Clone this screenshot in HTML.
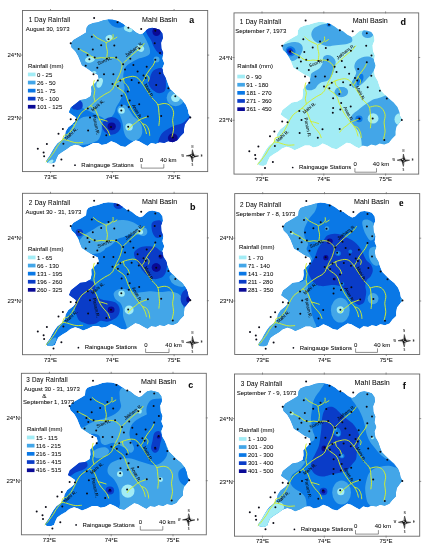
<!DOCTYPE html><html><head><meta charset="utf-8"><title>Mahi Basin Rainfall</title><style>html,body{margin:0;padding:0;background:#fff;overflow:hidden}svg{display:block}text{font-family:"Liberation Sans",sans-serif;fill:#0a0a0a;stroke:#0a0a0a;stroke-width:0.05px}</style></head><body>
<svg width="427" height="550" viewBox="0 0 427 550">
<defs><clipPath id="bc"><path d="M48.1,33.3 L50.9,29.5 L55.6,26.7 L60.3,23.9 L63.5,22.0 L64.0,17.3 L65.9,14.5 L70.6,12.6 L75.3,11.7 L80.9,9.8 L85.6,8.9 L90.3,9.3 L95.9,10.8 L100.6,13.6 L104.3,16.4 L109.0,18.3 L113.7,22.0 L117.5,23.9 L120.3,22.9 L123.1,20.1 L125.9,17.9 L129.7,17.3 L133.4,17.9 L137.2,19.2 L140.0,22.9 L140.5,27.6 L138.6,32.3 L139.0,37.9 L140.9,42.6 L140.0,48.2 L141.8,52.9 L140.0,57.6 L140.9,63.2 L143.7,67.9 L145.6,73.5 L147.5,78.2 L151.2,82.0 L154.9,85.6 L159.6,89.5 L163.4,94.2 L165.3,98.9 L166.2,103.6 L168.1,106.4 L165.3,110.1 L162.4,113.9 L161.5,118.6 L161.5,122.3 L157.8,126.0 L154.9,129.8 L150.3,131.7 L145.6,130.7 L141.8,132.6 L137.2,131.7 L133.4,133.5 L128.7,132.6 L125.0,135.4 L121.2,133.5 L116.5,130.7 L112.8,129.8 L107.8,133.0 L102.7,136.4 L98.1,135.4 L93.4,132.6 L88.7,130.7 L84.0,133.5 L79.3,134.5 L75.6,132.6 L70.9,132.6 L65.3,135.4 L60.6,137.3 L56.6,135.1 L52.7,133.9 L48.0,135.7 L44.3,138.6 L39.6,141.4 L35.8,144.2 L34.0,147.9 L32.6,151.7 L29.3,153.0 L25.5,152.6 L23.3,151.1 L24.6,148.9 L27.4,145.1 L29.3,141.4 L32.1,136.7 L34.9,132.9 L38.8,129.9 L42.3,125.7 L43.1,121.1 L45.8,116.8 L50.1,113.4 L53.8,109.9 L53.3,106.4 L50.3,104.5 L46.5,101.7 L48.4,97.0 L53.1,93.3 L57.8,89.5 L63.4,88.6 L68.1,85.8 L69.0,81.1 L68.7,76.3 L73.4,71.7 L76.2,67.9 L75.3,64.2 L69.7,61.4 L64.0,57.6 L59.4,54.8 L57.5,50.1 L55.6,45.4 L52.8,40.7 L49.0,37.0Z"/></clipPath>
<g id="riv" fill="none" stroke="#d2ee2c" stroke-width="0.95" stroke-linecap="round" stroke-linejoin="round">
<path d="M23.6,151.3 C24.0,150.9 25.3,149.8 26.2,148.7 C27.1,147.6 28.2,146.0 29.1,144.8 C30.1,143.5 30.8,142.6 31.8,141.2 C32.7,139.7 33.8,137.7 34.7,136.2 C35.7,134.8 36.4,133.8 37.3,132.6 C38.3,131.4 39.6,130.3 40.3,129.0 C41.0,127.8 40.5,126.0 41.3,125.1 C42.1,124.2 43.8,124.8 45.2,123.8 C46.6,122.8 48.2,120.9 49.5,119.2 C50.7,117.4 51.7,115.4 52.8,113.3 C53.8,111.2 54.9,108.7 56.0,106.7 C57.1,104.8 58.1,103.2 59.3,101.8 C60.6,100.5 62.1,99.6 63.6,98.5 C65.0,97.4 66.7,96.5 68.2,95.3 C69.6,94.0 70.9,92.4 72.4,91.0 C74.0,89.6 75.7,88.3 77.3,87.1 C79.0,85.9 80.6,84.8 82.3,83.8 C83.9,82.8 85.8,82.1 87.2,81.2 C88.5,80.2 89.6,79.1 90.5,77.9 C91.3,76.7 91.1,75.2 92.1,74.0 C93.1,72.8 94.9,71.7 96.4,70.7 C97.8,69.7 99.5,68.7 101.0,68.1 C102.4,67.4 103.7,67.1 105.2,66.7 C106.7,66.4 108.7,65.8 110.1,65.8 C111.6,65.8 113.0,66.2 114.1,66.7 C115.2,67.3 115.8,68.1 116.7,69.0 C117.6,70.0 118.3,70.9 119.3,72.3 C120.3,73.7 121.5,75.6 122.6,77.2 C123.7,78.9 124.8,80.5 125.9,82.1 C127.0,83.8 127.9,85.6 129.1,87.1 C130.3,88.5 132.0,89.6 133.1,91.0 C134.2,92.4 135.2,93.5 135.7,95.3 C136.3,97.1 136.1,99.6 136.4,101.8 C136.6,104.0 137.0,106.2 137.0,108.4 C137.0,110.6 136.5,113.8 136.4,114.9"/>
<path d="M135.7,94.3 C136.8,94.1 140.2,92.8 142.3,93.0 C144.3,93.1 146.4,93.8 147.8,95.3 C149.3,96.7 150.7,99.4 151.1,101.8 C151.5,104.3 150.1,107.3 150.1,110.0 C150.1,112.8 151.2,115.5 151.1,118.2 C151.0,120.9 149.7,125.0 149.5,126.4"/>
<path d="M56.0,37.9 C56.7,38.3 58.8,39.7 60.3,40.5 C61.8,41.3 63.4,41.9 64.9,42.8 C66.4,43.7 67.6,45.3 69.1,46.1 C70.7,46.9 72.4,47.6 74.1,47.7 C75.7,47.9 77.3,47.1 79.0,47.1 C80.6,47.1 82.3,47.7 83.9,47.7 C85.5,47.7 87.3,47.1 88.8,47.1 C90.3,47.1 91.7,47.2 93.1,47.7 C94.4,48.3 95.9,49.3 97.0,50.3 C98.1,51.4 99.4,52.8 99.6,54.3 C99.9,55.8 99.1,57.6 98.7,59.2 C98.2,60.8 97.7,62.5 97.0,64.1 C96.3,65.8 95.2,67.4 94.4,69.0 C93.6,70.7 92.5,73.1 92.1,74.0"/>
<path d="M70.8,24.1 C71.4,24.7 73.4,26.5 74.7,27.4 C76.1,28.3 77.6,28.9 79.0,29.7 C80.4,30.5 82.4,30.9 83.2,32.0 C84.1,33.1 83.6,34.7 83.9,36.2 C84.2,37.8 84.8,39.4 84.9,41.2 C84.9,43.0 84.3,46.1 84.2,47.1"/>
<path d="M90.5,24.1 C90.5,24.7 90.9,26.4 90.5,27.4 C90.0,28.4 88.9,29.3 87.8,30.0 C86.7,30.8 84.6,31.7 83.9,32.0"/>
<path d="M94.4,26.7 C93.8,27.1 91.7,28.4 91.1,28.7"/>
<path d="M121.6,33.0 C121.1,33.7 119.6,36.0 118.3,37.2 C117.1,38.5 115.5,39.3 114.1,40.5 C112.6,41.7 111.0,43.1 109.5,44.4 C108.0,45.8 106.6,47.0 105.2,48.4 C103.8,49.7 101.7,51.9 101.0,52.6"/>
<path d="M132.4,51.0 C132.1,51.7 131.3,53.6 130.5,54.9 C129.6,56.3 128.3,57.7 127.2,59.2 C126.1,60.7 124.8,62.5 123.9,64.1 C123.0,65.8 122.4,67.7 121.6,69.0 C120.8,70.4 119.7,71.8 119.3,72.3"/>
<path d="M123.9,64.1 C124.3,64.7 126.2,66.3 126.5,67.4 C126.9,68.5 126.0,70.1 125.9,70.7"/>
<path d="M92.1,74.0 C92.8,74.6 94.9,76.7 96.4,77.9 C97.8,79.1 99.7,79.9 101.0,81.2 C102.2,82.4 102.9,83.9 103.6,85.4 C104.3,87.0 104.6,88.7 105.2,90.3 C105.9,92.0 106.7,93.6 107.5,95.3 C108.3,96.9 109.1,98.5 110.1,100.2 C111.1,101.8 112.3,103.6 113.4,105.1 C114.5,106.6 115.6,108.0 116.7,109.4 C117.8,110.7 119.0,111.8 120.0,113.3 C121.0,114.8 121.9,116.6 122.6,118.2 C123.2,119.9 123.7,122.3 123.9,123.1"/>
<path d="M116.7,109.4 C117.5,109.0 120.1,107.9 121.6,107.4 C123.1,106.8 124.9,106.3 125.5,106.1"/>
<path d="M116.7,109.4 C116.0,109.9 114.1,111.5 112.8,112.6 C111.4,113.7 109.6,114.8 108.5,115.9 C107.3,117.0 106.3,118.7 105.9,119.2"/>
<path d="M120.0,113.3 C120.6,113.6 122.8,113.8 123.9,114.9 C125.0,116.0 126.0,118.2 126.5,119.9 C127.1,121.5 127.1,124.0 127.2,124.8"/>
<path d="M68.2,95.3 C68.9,95.8 71.3,97.2 72.4,98.5 C73.5,99.9 74.0,101.8 74.7,103.5 C75.4,105.1 76.0,106.8 76.7,108.4 C77.4,109.9 78.1,111.3 79.0,112.6 C79.9,114.0 81.2,115.3 82.3,116.6 C83.4,117.9 84.7,119.1 85.5,120.5 C86.4,121.9 86.9,124.1 87.2,124.8"/>
<path d="M76.7,108.4 C77.3,108.5 79.3,109.0 80.6,109.4 C81.9,109.7 83.9,110.5 84.6,110.7"/>
<path d="M40.3,129.0 C41.0,129.1 43.0,129.3 44.6,129.7 C46.1,130.1 47.8,130.9 49.5,131.3 C51.1,131.8 52.6,132.2 54.4,132.3 C56.1,132.4 59.0,132.0 60.0,132.0"/>
<path d="M72.4,91.0 C72.3,90.1 71.4,87.3 71.4,85.4 C71.4,83.6 72.5,81.7 72.4,79.9 C72.3,78.1 70.9,76.2 70.8,74.6 C70.7,73.0 71.6,70.8 71.8,70.0"/>
<path d="M101.0,68.1 C101.1,68.8 101.2,71.1 101.9,72.3 C102.6,73.6 104.4,74.3 105.2,75.6 C106.0,76.8 106.6,79.1 106.9,79.9"/>
</g>
<g id="dots" fill="#0a0a14">
<circle cx="71.6" cy="7.5" r="1.0"/>
<circle cx="95.0" cy="11.8" r="1.0"/>
<circle cx="105.9" cy="17.3" r="1.0"/>
<circle cx="69.3" cy="26.3" r="1.0"/>
<circle cx="86.0" cy="28.7" r="1.0"/>
<circle cx="48.2" cy="32.8" r="1.0"/>
<circle cx="56.2" cy="38.4" r="1.0"/>
<circle cx="78.7" cy="34.7" r="1.0"/>
<circle cx="91.8" cy="35.1" r="1.0"/>
<circle cx="70.3" cy="39.0" r="1.0"/>
<circle cx="65.0" cy="44.6" r="1.0"/>
<circle cx="66.9" cy="48.7" r="1.0"/>
<circle cx="72.2" cy="46.9" r="1.0"/>
<circle cx="84.3" cy="48.2" r="1.0"/>
<circle cx="93.7" cy="46.9" r="1.0"/>
<circle cx="107.8" cy="48.2" r="1.0"/>
<circle cx="63.2" cy="55.3" r="1.0"/>
<circle cx="74.8" cy="57.2" r="1.0"/>
<circle cx="100.6" cy="53.8" r="1.0"/>
<circle cx="110.9" cy="54.4" r="1.0"/>
<circle cx="71.0" cy="63.7" r="1.0"/>
<circle cx="81.5" cy="63.7" r="1.0"/>
<circle cx="90.9" cy="63.7" r="1.0"/>
<circle cx="102.5" cy="59.1" r="1.0"/>
<circle cx="115.1" cy="60.9" r="1.0"/>
<circle cx="75.3" cy="69.9" r="1.0"/>
<circle cx="97.8" cy="69.9" r="1.0"/>
<circle cx="109.1" cy="69.4" r="1.0"/>
<circle cx="90.0" cy="73.5" r="1.0"/>
<circle cx="95.4" cy="75.4" r="1.0"/>
<circle cx="105.3" cy="81.0" r="1.0"/>
<circle cx="99.1" cy="85.3" r="1.0"/>
<circle cx="107.2" cy="90.0" r="1.0"/>
<circle cx="99.1" cy="95.0" r="1.0"/>
<circle cx="106.3" cy="96.5" r="1.0"/>
<circle cx="118.7" cy="18.4" r="1.0"/>
<circle cx="132.8" cy="20.3" r="1.0"/>
<circle cx="132.2" cy="32.8" r="1.0"/>
<circle cx="116.9" cy="37.9" r="1.0"/>
<circle cx="137.5" cy="42.6" r="1.0"/>
<circle cx="132.8" cy="49.3" r="1.0"/>
<circle cx="124.2" cy="56.2" r="1.0"/>
<circle cx="121.0" cy="65.0" r="1.0"/>
<circle cx="123.2" cy="67.5" r="1.0"/>
<circle cx="137.3" cy="62.8" r="1.0"/>
<circle cx="116.3" cy="72.2" r="1.0"/>
<circle cx="133.7" cy="74.4" r="1.0"/>
<circle cx="145.9" cy="77.8" r="1.0"/>
<circle cx="152.8" cy="85.7" r="1.0"/>
<circle cx="116.7" cy="93.7" r="1.0"/>
<circle cx="65.3" cy="98.0" r="1.0"/>
<circle cx="67.5" cy="107.0" r="1.0"/>
<circle cx="53.5" cy="109.3" r="1.0"/>
<circle cx="48.2" cy="108.7" r="1.0"/>
<circle cx="40.4" cy="118.6" r="1.0"/>
<circle cx="36.0" cy="123.3" r="1.0"/>
<circle cx="65.6" cy="120.1" r="1.0"/>
<circle cx="88.5" cy="116.4" r="1.0"/>
<circle cx="83.8" cy="124.8" r="1.0"/>
<circle cx="40.9" cy="133.2" r="1.0"/>
<circle cx="24.4" cy="133.6" r="1.0"/>
<circle cx="21.1" cy="142.0" r="1.0"/>
<circle cx="21.6" cy="145.8" r="1.0"/>
<circle cx="38.9" cy="149.0" r="1.0"/>
<circle cx="31.0" cy="155.2" r="1.0"/>
<circle cx="98.8" cy="99.9" r="1.0"/>
<circle cx="125.4" cy="105.9" r="1.0"/>
<circle cx="138.7" cy="105.5" r="1.0"/>
<circle cx="167.8" cy="107.0" r="1.0"/>
<circle cx="105.7" cy="116.2" r="1.0"/>
<circle cx="150.3" cy="127.1" r="1.0"/>
<circle cx="15.3" cy="138.3" r="1.0"/>
</g>
<g id="compass"><g stroke="#222" stroke-width="0.3" stroke-linejoin="miter"><path d="M0,-6.2L1.3,-1.3L6.2,0L1.3,1.3L0,6.2L-1.3,1.3L-6.2,0L-1.3,-1.3Z" fill="#fff"/><path d="M0,-6.2L1.3,-1.3L0,0ZM6.2,0L1.3,1.3L0,0ZM0,6.2L-1.3,1.3L0,0ZM-6.2,0L-1.3,-1.3L0,0Z" fill="#111"/><path d="M0,-2.6L2.6,0L0,2.6L-2.6,0Z" fill="#111" stroke="none"/><path d="M-0.2,-1.7L-1.7,-0.2L-0.2,-0.2ZM0.2,1.7L1.7,0.2L0.2,0.2Z" fill="#fff" stroke="none"/></g><text x="0" y="-8.3" font-size="2.6" text-anchor="middle" fill="#555" stroke="none">N</text><text x="0" y="10.6" font-size="2.6" text-anchor="middle" fill="#555" stroke="none">S</text><text x="9.2" y="0.9" font-size="2.6" text-anchor="middle" fill="#555" stroke="none">E</text><text x="-9.6" y="0.9" font-size="2.6" text-anchor="middle" fill="#555" stroke="none">W</text></g>
</defs>
<rect width="427" height="550" fill="#fff"/>
<g transform="translate(22.5,10.5)">
<rect x="0" y="0" width="185.2" height="161.1" fill="#fff" stroke="#686868" stroke-width="0.9"/>
<path d="M28.0,-1.5V0.5M28.0,160.6V162.6" stroke="#686868" stroke-width="0.7"/>
<path d="M89.8,-1.5V0.5M89.8,160.6V162.6" stroke="#686868" stroke-width="0.7"/>
<path d="M151.6,-1.5V0.5M151.6,160.6V162.6" stroke="#686868" stroke-width="0.7"/>
<path d="M-1.5,44.6H0.5M184.7,44.6H186.7" stroke="#686868" stroke-width="0.7"/>
<path d="M-1.5,107.4H0.5M184.7,107.4H186.7" stroke="#686868" stroke-width="0.7"/>
<g transform="translate(0.0,0.0)">
<g clip-path="url(#bc)">
<path d="M48.1,33.3 L50.9,29.5 L55.6,26.7 L60.3,23.9 L63.5,22.0 L64.0,17.3 L65.9,14.5 L70.6,12.6 L75.3,11.7 L80.9,9.8 L85.6,8.9 L90.3,9.3 L95.9,10.8 L100.6,13.6 L104.3,16.4 L109.0,18.3 L113.7,22.0 L117.5,23.9 L120.3,22.9 L123.1,20.1 L125.9,17.9 L129.7,17.3 L133.4,17.9 L137.2,19.2 L140.0,22.9 L140.5,27.6 L138.6,32.3 L139.0,37.9 L140.9,42.6 L140.0,48.2 L141.8,52.9 L140.0,57.6 L140.9,63.2 L143.7,67.9 L145.6,73.5 L147.5,78.2 L151.2,82.0 L154.9,85.6 L159.6,89.5 L163.4,94.2 L165.3,98.9 L166.2,103.6 L168.1,106.4 L165.3,110.1 L162.4,113.9 L161.5,118.6 L161.5,122.3 L157.8,126.0 L154.9,129.8 L150.3,131.7 L145.6,130.7 L141.8,132.6 L137.2,131.7 L133.4,133.5 L128.7,132.6 L125.0,135.4 L121.2,133.5 L116.5,130.7 L112.8,129.8 L107.8,133.0 L102.7,136.4 L98.1,135.4 L93.4,132.6 L88.7,130.7 L84.0,133.5 L79.3,134.5 L75.6,132.6 L70.9,132.6 L65.3,135.4 L60.6,137.3 L56.6,135.1 L52.7,133.9 L48.0,135.7 L44.3,138.6 L39.6,141.4 L35.8,144.2 L34.0,147.9 L32.6,151.7 L29.3,153.0 L25.5,152.6 L23.3,151.1 L24.6,148.9 L27.4,145.1 L29.3,141.4 L32.1,136.7 L34.9,132.9 L38.8,129.9 L42.3,125.7 L43.1,121.1 L45.8,116.8 L50.1,113.4 L53.8,109.9 L53.3,106.4 L50.3,104.5 L46.5,101.7 L48.4,97.0 L53.1,93.3 L57.8,89.5 L63.4,88.6 L68.1,85.8 L69.0,81.1 L68.7,76.3 L73.4,71.7 L76.2,67.9 L75.3,64.2 L69.7,61.4 L64.0,57.6 L59.4,54.8 L57.5,50.1 L55.6,45.4 L52.8,40.7 L49.0,37.0Z" fill="#0a78e6"/>
<path d="M37.5,16.2 C43.1,3.7 64.7,-0.3 75.0,-2.5 C85.3,-4.7 93.1,0.3 99.3,3.1 C105.6,5.9 109.3,11.4 112.4,14.4 C115.6,17.3 116.6,18.4 118.4,20.9 C120.3,23.4 122.2,26.5 123.7,29.4 C125.1,32.2 126.5,35.4 127.1,37.8 C127.6,40.1 127.9,41.9 127.1,43.4 C126.2,44.9 123.8,45.7 121.8,46.6 C119.8,47.4 117.3,47.6 115.3,48.5 C113.2,49.3 111.3,50.4 109.6,51.5 C107.9,52.5 106.2,53.5 104.9,54.6 C103.7,55.8 102.8,56.7 102.1,58.4 C101.5,60.1 101.0,62.6 100.8,64.9 C100.7,67.3 101.0,70.3 101.2,72.4 C101.4,74.6 102.3,76.0 102.1,78.1 C102.0,80.1 101.1,82.4 100.3,84.6 C99.4,86.8 98.2,89.1 97.1,91.2 C96.0,93.2 94.6,94.9 93.7,96.8 C92.8,98.7 92.8,100.7 91.8,102.4 C90.9,104.1 89.6,106.1 88.1,107.1 C86.5,108.1 84.7,107.9 82.5,108.4 C80.3,108.9 77.5,109.4 75.0,109.9 C72.5,110.5 69.7,111.0 67.5,111.8 C65.3,112.6 63.7,113.0 61.9,114.6 C60.0,116.2 58.4,121.9 56.2,121.2 C54.0,120.4 51.2,118.0 48.7,109.9 C46.2,101.8 43.1,88.1 41.2,72.4 C39.4,56.8 31.9,28.7 37.5,16.2Z" fill="#43a6e8"/>
<path d="M87.1,5.0 C88.6,4.5 91.5,5.0 93.7,5.9 C95.9,6.9 98.9,9.1 100.3,10.6 C101.7,12.2 102.6,14.2 102.1,15.3 C101.7,16.4 99.2,17.0 97.5,17.2 C95.7,17.3 93.4,16.9 91.8,16.2 C90.3,15.6 89.2,14.7 88.1,13.4 C87.0,12.2 85.4,10.1 85.3,8.7 C85.1,7.3 85.7,5.5 87.1,5.0Z" fill="#0a78e6"/>
<path d="M41.9,97.6 C43.6,95.6 48.3,94.2 51.2,94.2 C54.2,94.2 57.1,96.5 59.7,97.6 C62.2,98.7 64.2,99.5 66.6,100.6 C68.9,101.7 71.3,103.1 73.7,104.3 C76.1,105.6 80.1,106.5 81.2,107.9 C82.3,109.3 81.8,112.7 80.3,113.0 C78.7,113.3 74.5,110.6 71.8,109.8 C69.2,108.9 66.7,107.9 64.3,107.9 C62.0,107.9 59.7,108.8 57.8,109.8 C55.9,110.7 55.1,113.2 53.1,113.5 C51.1,113.8 47.6,112.9 45.6,111.7 C43.6,110.4 41.5,108.4 40.9,106.0 C40.3,103.7 40.1,99.6 41.9,97.6Z" fill="#0a78e6"/>
<path d="M17.5,159.4 C16.3,157.6 19.4,151.6 21.2,148.2 C23.1,144.8 26.2,141.6 28.7,138.8 C31.2,136.0 33.7,133.7 36.2,131.3 C38.7,129.0 41.7,127.0 43.7,124.8 C45.8,122.6 46.9,120.2 48.4,118.2 C50.0,116.2 51.5,114.3 53.1,112.6 C54.7,110.9 55.9,109.0 57.8,107.9 C59.7,106.8 62.0,106.2 64.3,106.0 C66.7,105.9 69.6,106.3 71.8,107.0 C74.0,107.6 76.2,108.2 77.5,109.8 C78.7,111.3 79.2,114.0 79.3,116.3 C79.5,118.7 79.0,121.6 78.4,123.8 C77.8,126.0 77.0,128.0 75.6,129.5 C74.2,130.9 72.0,131.5 70.0,132.3 C67.9,133.0 65.9,133.7 63.4,134.1 C60.9,134.6 57.6,134.4 55.0,135.1 C52.3,135.7 50.0,136.3 47.5,137.9 C45.0,139.4 42.2,142.1 40.0,144.4 C37.8,146.8 36.2,149.4 34.4,151.9 C32.5,154.4 31.6,158.2 28.7,159.4 C25.9,160.7 18.7,161.3 17.5,159.4Z" fill="#43a6e8"/>
<path d="M95.9,96.3 C97.2,95.2 100.6,93.8 102.5,94.5 C104.3,95.1 105.7,98.2 107.1,100.1 C108.6,102.0 109.5,104.1 110.9,105.7 C112.3,107.3 114.2,107.9 115.6,109.5 C116.9,111.0 118.3,112.9 119.0,115.1 C119.6,117.3 120.1,120.4 119.7,122.6 C119.3,124.8 118.1,126.9 116.5,128.2 C114.9,129.5 112.0,130.6 110.0,130.4 C107.9,130.3 105.7,128.7 104.3,127.3 C102.9,125.8 102.2,124.0 101.5,121.6 C100.8,119.3 100.8,115.9 100.2,113.2 C99.6,110.5 98.7,107.7 97.8,105.7 C96.9,103.7 95.3,102.6 95.0,101.0 C94.7,99.5 94.7,97.4 95.9,96.3Z" fill="#43a6e8"/>
<path d="M123.7,19.0 C124.4,17.6 126.5,15.9 128.4,15.3 C130.3,14.7 132.6,14.5 135.0,15.3 C137.3,16.1 141.2,16.7 142.5,20.0 C143.7,23.3 142.9,30.9 142.5,35.0 C142.0,39.0 140.9,43.2 139.7,44.3 C138.4,45.4 136.4,42.9 135.0,41.5 C133.6,40.1 132.3,37.9 131.2,35.9 C130.1,33.9 129.5,31.4 128.4,29.4 C127.3,27.3 125.4,25.4 124.7,23.7 C123.9,22.0 123.1,20.5 123.7,19.0Z" fill="#0a3cc8"/>
<path d="M132.2,59.3 C133.6,58.5 136.1,57.1 137.8,57.5 C139.5,57.8 141.5,58.7 142.5,61.2 C143.4,63.7 143.4,69.3 143.4,72.4 C143.4,75.6 143.6,78.2 142.5,79.9 C141.4,81.7 138.7,82.7 136.8,82.7 C135.0,82.7 132.8,81.3 131.2,79.9 C129.7,78.5 128.1,76.3 127.5,74.3 C126.9,72.3 127.2,69.8 127.5,67.8 C127.8,65.7 128.6,63.5 129.4,62.1 C130.1,60.7 130.8,60.1 132.2,59.3Z" fill="#0a3cc8"/>
<path d="M125.9,69.5 C126.6,68.3 128.3,67.0 130.6,66.7 C132.9,66.4 137.9,66.5 140.0,67.6 C142.0,68.7 142.6,71.4 142.8,73.2 C142.9,75.1 142.2,77.6 140.9,78.9 C139.7,80.2 137.2,81.1 135.3,81.1 C133.4,81.1 131.1,80.0 129.7,78.9 C128.2,77.7 127.1,75.7 126.5,74.2 C125.9,72.6 125.2,70.7 125.9,69.5Z" fill="#0a3cc8"/>
<path d="M171.8,101.4 C169.9,98.2 168.1,105.2 166.2,107.0 C164.3,108.8 163.1,110.8 160.6,112.2 C158.1,113.6 154.2,114.1 151.2,115.4 C148.2,116.7 145.0,118.4 142.8,120.1 C140.5,121.8 138.9,123.5 137.7,125.7 C136.6,127.9 135.5,130.7 135.8,133.2 C136.2,135.7 136.2,138.8 140.0,140.7 C143.8,142.6 152.5,146.9 158.7,144.4 C165.0,141.9 175.3,132.9 177.4,125.7 C179.6,118.5 173.7,104.5 171.8,101.4Z" fill="#0a3cc8"/>
<ellipse cx="89.0" cy="115.4" rx="9.4" ry="8.8" transform="rotate(0 89.0 115.4)" fill="#0a3cc8"/>
<ellipse cx="89.2" cy="115.8" rx="4.1" ry="3.9" transform="rotate(0 89.2 115.8)" fill="#0a0a96"/>
<ellipse cx="150.3" cy="127.6" rx="4.9" ry="4.7" transform="rotate(0 150.3 127.6)" fill="#0a0a96"/>
<ellipse cx="134.0" cy="20.9" rx="4.1" ry="4.7" transform="rotate(0 134.0 20.9)" fill="#0a0a96"/>
<path d="M49.4,88.2 C50.3,86.7 53.3,87.6 55.0,88.2 C56.7,88.9 58.9,90.4 59.7,92.0 C60.4,93.5 60.4,96.4 59.7,97.6 C58.9,98.9 56.7,99.5 55.0,99.5 C53.3,99.5 50.3,99.5 49.4,97.6 C48.4,95.7 48.4,89.8 49.4,88.2Z" fill="#0a3cc8"/>
<ellipse cx="105.9" cy="18.1" rx="4.5" ry="3.2" transform="rotate(20 105.9 18.1)" fill="#a2ecf5"/>
<ellipse cx="86.6" cy="27.5" rx="3.6" ry="3.0" transform="rotate(-20 86.6 27.5)" fill="#a2ecf5"/>
<ellipse cx="67.5" cy="49.0" rx="5.1" ry="3.2" transform="rotate(-15 67.5 49.0)" fill="#a2ecf5"/>
<ellipse cx="77.2" cy="72.4" rx="2.8" ry="5.1" transform="rotate(20 77.2 72.4)" fill="#a2ecf5"/>
<ellipse cx="71.6" cy="62.1" rx="2.2" ry="1.5" transform="rotate(0 71.6 62.1)" fill="#a2ecf5"/>
<ellipse cx="117.7" cy="37.8" rx="4.1" ry="3.2" transform="rotate(30 117.7 37.8)" fill="#a2ecf5"/>
<ellipse cx="153.1" cy="87.3" rx="9.0" ry="8.4" transform="rotate(0 153.1 87.3)" fill="#43a6e8"/>
<ellipse cx="153.1" cy="87.3" rx="4.5" ry="4.1" transform="rotate(0 153.1 87.3)" fill="#a2ecf5"/>
<ellipse cx="99.1" cy="100.1" rx="3.2" ry="3.2" transform="rotate(0 99.1 100.1)" fill="#a2ecf5"/>
<ellipse cx="106.6" cy="116.4" rx="3.7" ry="3.7" transform="rotate(0 106.6 116.4)" fill="#a2ecf5"/>
<ellipse cx="134.0" cy="49.0" rx="3.0" ry="3.0" transform="rotate(0 134.0 49.0)" fill="#43a6e8"/>
<ellipse cx="27.8" cy="151.9" rx="3.7" ry="1.7" transform="rotate(-40 27.8 151.9)" fill="#a2ecf5"/>
</g>
<use href="#riv"/>
<text x="76.3" y="96.1" font-size="4.5" text-anchor="middle" transform="rotate(-40 76.3 96.1)" fill="#1a2a55">Mahi R.</text>
<text x="49.7" y="124.2" font-size="4.5" text-anchor="middle" transform="rotate(-42 49.7 124.2)" fill="#1a2a55">Mahi R.</text>
<text x="72.2" y="114.9" font-size="4.5" text-anchor="middle" transform="rotate(78 72.2 114.9)" fill="#1a2a55">Panam R.</text>
<text x="82.8" y="51.6" font-size="4.5" text-anchor="middle" transform="rotate(-22 82.8 51.6)" fill="#1a2a55">Som R.</text>
<text x="112.6" y="39.9" font-size="4.5" text-anchor="middle" transform="rotate(-38 112.6 39.9)" fill="#1a2a55">Jakham R.</text>
<text x="125.1" y="81.0" font-size="4.5" text-anchor="middle" transform="rotate(62 125.1 81.0)" fill="#1a2a55">Mahi R.</text>
<text x="113.2" y="101.8" font-size="4.5" text-anchor="middle" transform="rotate(62 113.2 101.8)" fill="#1a2a55">Anas R.</text>
<use href="#dots"/>
</g>
<text x="6.2" y="11.1" font-size="6.3" letter-spacing="0.17">1 Day Rainfall</text>
<text x="3.3" y="20.1" font-size="6.0" >August 30, 1973</text>
<text x="119.6" y="11.0" font-size="7.1" >Mahi Basin</text>
<text x="166.8" y="12.9" font-size="8.8" font-weight="bold">a</text>
<text x="5.4" y="57.8" font-size="6">Rainfall (mm)</text>
<rect x="5.4" y="62.1" width="7.6" height="3.7" fill="#a2ecf5"/>
<text x="14.4" y="66.1" font-size="6">0 - 25</text>
<rect x="5.4" y="70.2" width="7.6" height="3.7" fill="#43a6e8"/>
<text x="14.4" y="74.2" font-size="6">26 - 50</text>
<rect x="5.4" y="78.3" width="7.6" height="3.7" fill="#0a78e6"/>
<text x="14.4" y="82.3" font-size="6">51 - 75</text>
<rect x="5.4" y="86.3" width="7.6" height="3.7" fill="#0a3cc8"/>
<text x="14.4" y="90.3" font-size="6">76 - 100</text>
<rect x="5.4" y="94.4" width="7.6" height="3.7" fill="#0a0a96"/>
<text x="14.4" y="98.4" font-size="6">101 - 125</text>
<circle cx="52.5" cy="154.7" r="0.85" fill="#0a0a14"/>
<text x="58.8" y="156.5" font-size="6">Raingauge Stations</text>
<path d="M118.8,153.6V157.6H141.3V153.6" fill="none" stroke="#444" stroke-width="0.6"/>
<text x="119.0" y="151.8" font-size="6" text-anchor="middle">0</text>
<text x="145.8" y="151.8" font-size="6" text-anchor="middle">40 km</text>
<use href="#compass" x="169.9" y="145.4"/>
<text x="28.0" y="168.3" font-size="6" text-anchor="middle">73°E</text>
<text x="89.8" y="168.3" font-size="6" text-anchor="middle">74°E</text>
<text x="151.6" y="168.3" font-size="6" text-anchor="middle">75°E</text>
<text x="-1.6" y="46.7" font-size="6" text-anchor="end">24°N</text>
<text x="-1.6" y="109.5" font-size="6" text-anchor="end">23°N</text>
</g>
<g transform="translate(22.5,193.3)">
<rect x="0" y="0" width="184.9" height="161.4" fill="#fff" stroke="#686868" stroke-width="0.9"/>
<path d="M28.0,-1.5V0.5M28.0,160.9V162.9" stroke="#686868" stroke-width="0.7"/>
<path d="M89.8,-1.5V0.5M89.8,160.9V162.9" stroke="#686868" stroke-width="0.7"/>
<path d="M151.6,-1.5V0.5M151.6,160.9V162.9" stroke="#686868" stroke-width="0.7"/>
<path d="M-1.5,44.6H0.5M184.4,44.6H186.4" stroke="#686868" stroke-width="0.7"/>
<path d="M-1.5,107.4H0.5M184.4,107.4H186.4" stroke="#686868" stroke-width="0.7"/>
<g transform="translate(0.0,0.0)">
<g clip-path="url(#bc)">
<path d="M48.1,33.3 L50.9,29.5 L55.6,26.7 L60.3,23.9 L63.5,22.0 L64.0,17.3 L65.9,14.5 L70.6,12.6 L75.3,11.7 L80.9,9.8 L85.6,8.9 L90.3,9.3 L95.9,10.8 L100.6,13.6 L104.3,16.4 L109.0,18.3 L113.7,22.0 L117.5,23.9 L120.3,22.9 L123.1,20.1 L125.9,17.9 L129.7,17.3 L133.4,17.9 L137.2,19.2 L140.0,22.9 L140.5,27.6 L138.6,32.3 L139.0,37.9 L140.9,42.6 L140.0,48.2 L141.8,52.9 L140.0,57.6 L140.9,63.2 L143.7,67.9 L145.6,73.5 L147.5,78.2 L151.2,82.0 L154.9,85.6 L159.6,89.5 L163.4,94.2 L165.3,98.9 L166.2,103.6 L168.1,106.4 L165.3,110.1 L162.4,113.9 L161.5,118.6 L161.5,122.3 L157.8,126.0 L154.9,129.8 L150.3,131.7 L145.6,130.7 L141.8,132.6 L137.2,131.7 L133.4,133.5 L128.7,132.6 L125.0,135.4 L121.2,133.5 L116.5,130.7 L112.8,129.8 L107.8,133.0 L102.7,136.4 L98.1,135.4 L93.4,132.6 L88.7,130.7 L84.0,133.5 L79.3,134.5 L75.6,132.6 L70.9,132.6 L65.3,135.4 L60.6,137.3 L56.6,135.1 L52.7,133.9 L48.0,135.7 L44.3,138.6 L39.6,141.4 L35.8,144.2 L34.0,147.9 L32.6,151.7 L29.3,153.0 L25.5,152.6 L23.3,151.1 L24.6,148.9 L27.4,145.1 L29.3,141.4 L32.1,136.7 L34.9,132.9 L38.8,129.9 L42.3,125.7 L43.1,121.1 L45.8,116.8 L50.1,113.4 L53.8,109.9 L53.3,106.4 L50.3,104.5 L46.5,101.7 L48.4,97.0 L53.1,93.3 L57.8,89.5 L63.4,88.6 L68.1,85.8 L69.0,81.1 L68.7,76.3 L73.4,71.7 L76.2,67.9 L75.3,64.2 L69.7,61.4 L64.0,57.6 L59.4,54.8 L57.5,50.1 L55.6,45.4 L52.8,40.7 L49.0,37.0Z" fill="#0a78e6"/>
<path d="M57.2,46.8 C57.8,45.4 59.8,43.4 61.9,41.7 C63.9,40.1 66.9,38.6 69.4,37.0 C71.8,35.5 74.3,33.6 76.8,32.4 C79.3,31.1 81.8,30.3 84.3,29.6 C86.8,28.8 89.3,28.1 91.8,27.7 C94.3,27.2 96.8,26.7 99.3,26.7 C101.8,26.7 104.6,27.1 106.8,27.7 C109.0,28.2 110.6,29.0 112.4,29.9 C114.3,30.9 116.2,32.4 118.1,33.3 C119.9,34.2 122.6,34.1 123.7,35.2 C124.8,36.3 125.1,38.6 124.6,39.9 C124.2,41.1 122.6,42.4 120.9,42.7 C119.2,42.9 116.7,41.4 114.3,41.2 C112.0,40.9 109.0,40.8 106.8,41.2 C104.6,41.6 103.1,42.9 101.2,43.6 C99.3,44.3 97.1,44.5 95.6,45.5 C94.0,46.4 93.2,48.0 91.8,49.2 C90.4,50.5 89.0,51.9 87.1,53.0 C85.3,54.1 82.8,55.2 80.6,55.8 C78.4,56.4 76.2,57.0 74.0,56.7 C71.8,56.4 69.5,54.7 67.5,53.9 C65.4,53.1 63.4,52.7 61.9,52.0 C60.3,51.3 58.9,50.7 58.1,49.8 C57.3,48.9 56.5,48.1 57.2,46.8Z" fill="#43a6e8"/>
<path d="M91.2,100.3 C91.5,98.7 93.3,97.3 95.0,96.5 C96.7,95.8 99.5,95.4 101.5,95.6 C103.6,95.8 105.1,96.9 107.1,97.5 C109.2,98.1 111.4,99.1 113.7,99.3 C116.0,99.6 118.7,99.0 121.2,98.8 C123.7,98.6 125.9,98.0 128.7,98.0 C131.5,98.0 135.3,98.8 138.1,98.8 C140.9,98.8 143.4,98.0 145.6,98.0 C147.7,98.0 149.3,98.3 151.2,98.8 C153.1,99.3 155.3,100.0 156.8,101.2 C158.3,102.4 159.5,103.9 160.2,105.9 C160.9,107.9 160.4,111.2 160.9,113.4 C161.5,115.6 162.2,117.6 163.4,119.0 C164.5,120.4 166.3,121.8 168.0,121.8 C169.8,121.8 171.8,120.4 173.7,119.0 C175.5,117.6 178.3,110.6 179.3,113.4 C180.2,116.2 187.1,130.3 179.3,135.9 C171.5,141.5 144.6,145.9 132.4,147.1 C120.3,148.4 110.9,145.6 106.2,143.4 C101.5,141.2 105.0,136.5 104.3,134.0 C103.7,131.5 103.1,130.3 102.5,128.4 C101.8,126.5 101.0,125.0 100.6,122.8 C100.2,120.6 100.7,117.5 100.2,115.3 C99.7,113.1 99.0,111.2 97.8,109.7 C96.6,108.1 94.2,107.5 93.1,105.9 C92.0,104.3 90.9,101.8 91.2,100.3Z" fill="#43a6e8"/>
<ellipse cx="152.1" cy="87.5" rx="3.4" ry="3.0" transform="rotate(0 152.1 87.5)" fill="#43a6e8"/>
<path d="M147.1,82.9 C147.9,81.5 151.4,79.7 153.7,80.1 C156.0,80.6 160.0,83.6 161.2,85.8 C162.4,87.9 162.4,92.2 161.2,93.3 C160.0,94.3 155.7,93.1 153.7,92.3 C151.7,91.5 150.1,90.1 149.0,88.6 C147.9,87.0 146.4,84.4 147.1,82.9Z" fill="#43a6e8"/>
<ellipse cx="28.7" cy="150.3" rx="7.5" ry="2.6" transform="rotate(-50 28.7 150.3)" fill="#43a6e8"/>
<path d="M53.8,49.7 C56.3,48.1 64.1,47.8 68.7,47.8 C73.4,47.8 79.5,48.5 81.9,49.7 C84.2,50.9 83.4,53.8 82.8,55.3 C82.2,56.9 80.1,58.2 78.1,59.1 C76.1,59.9 73.1,60.4 70.6,60.6 C68.1,60.7 65.3,59.9 63.1,60.0 C60.9,60.1 59.1,61.4 57.5,60.9 C55.9,60.5 54.4,59.1 53.8,57.2 C53.1,55.3 51.3,51.3 53.8,49.7Z" fill="#43a6e8"/>
<ellipse cx="96.1" cy="11.6" rx="5.1" ry="4.1" transform="rotate(0 96.1 11.6)" fill="#0a3cc8"/>
<ellipse cx="56.8" cy="39.3" rx="3.7" ry="3.7" transform="rotate(0 56.8 39.3)" fill="#0a3cc8"/>
<path d="M130.3,28.6 C131.8,27.6 136.0,26.2 137.8,27.3 C139.6,28.4 140.7,32.6 141.0,35.2 C141.3,37.7 140.8,41.1 139.7,42.7 C138.5,44.2 135.6,45.0 134.0,44.5 C132.5,44.1 131.1,41.7 130.3,39.9 C129.4,38.0 129.0,35.2 129.0,33.3 C129.0,31.4 128.8,29.6 130.3,28.6Z" fill="#0a3cc8"/>
<path d="M112.5,57.7 C113.6,56.4 115.9,54.7 118.1,53.9 C120.3,53.1 123.1,53.0 125.6,53.0 C128.1,53.0 131.1,53.1 133.1,53.9 C135.1,54.7 136.2,56.6 137.8,57.7 C139.3,58.7 141.4,58.3 142.5,60.5 C143.6,62.6 144.3,67.5 144.3,70.8 C144.4,74.0 143.9,77.8 142.8,80.1 C141.7,82.5 139.7,83.9 137.8,84.8 C135.8,85.8 133.3,86.1 131.2,85.8 C129.2,85.4 127.3,84.2 125.6,82.9 C123.9,81.7 122.3,80.0 120.9,78.3 C119.5,76.5 118.4,74.7 117.2,72.6 C115.9,70.6 114.4,68.0 113.4,66.1 C112.5,64.2 111.7,62.8 111.6,61.4 C111.4,60.0 111.4,58.9 112.5,57.7Z" fill="#0a3cc8"/>
<path d="M53.8,94.7 C55.6,91.1 60.6,90.9 63.1,90.0 C65.6,89.0 67.1,88.6 68.7,89.0 C70.4,89.5 72.2,91.2 72.9,92.8 C73.5,94.4 72.1,96.9 72.5,98.8 C72.9,100.7 73.9,102.7 75.3,104.0 C76.7,105.4 78.9,106.2 80.9,106.8 C82.9,107.5 85.3,107.2 87.5,107.8 C89.7,108.3 92.4,108.6 94.0,110.0 C95.7,111.4 97.0,114.1 97.2,116.2 C97.4,118.3 96.5,121.1 95.3,122.8 C94.2,124.5 92.1,125.6 90.3,126.5 C88.5,127.5 86.7,128.2 84.7,128.4 C82.6,128.5 80.0,127.1 78.1,127.5 C76.2,127.8 75.3,129.6 73.4,130.3 C71.6,130.9 68.9,131.4 66.9,131.2 C64.8,131.0 63.1,130.3 61.2,129.3 C59.4,128.4 57.2,128.5 55.6,125.6 C54.1,122.6 52.2,116.7 51.9,111.5 C51.6,106.4 51.9,98.3 53.8,94.7Z" fill="#0a3cc8"/>
<path d="M45.6,92.2 C47.2,89.1 52.2,89.3 55.0,88.4 C57.8,87.6 59.9,87.0 62.5,86.9 C65.0,86.9 68.8,86.7 70.3,88.1 C71.9,89.4 72.5,92.9 71.8,95.0 C71.2,97.1 68.6,99.0 66.6,100.6 C64.6,102.2 61.7,103.6 59.7,104.7 C57.6,105.8 56.4,106.8 54.0,107.2 C51.7,107.6 47.0,109.7 45.6,107.2 C44.2,104.7 44.0,95.3 45.6,92.2Z" fill="#0a3cc8"/>
<path d="M119.4,66.0 C123.0,64.2 138.8,64.4 142.8,66.0 C146.8,67.5 143.8,72.8 143.3,75.3 C142.9,77.8 141.6,79.6 140.0,80.9 C138.3,82.3 135.8,83.1 133.4,83.2 C131.1,83.3 127.9,82.5 125.9,81.3 C123.9,80.2 122.3,78.8 121.2,76.3 C120.1,73.7 115.8,67.7 119.4,66.0Z" fill="#0a3cc8"/>
<path d="M169.9,94.1 C168.5,91.6 165.2,94.8 163.4,95.9 C161.6,97.0 159.9,98.7 159.1,100.6 C158.2,102.5 158.0,105.2 158.3,107.2 C158.6,109.1 159.6,111.3 161.0,112.4 C162.3,113.5 164.4,114.0 166.2,113.7 C168.0,113.5 171.2,114.2 171.8,110.9 C172.4,107.6 171.4,96.6 169.9,94.1Z" fill="#0a3cc8"/>
<ellipse cx="133.5" cy="74.1" rx="4.3" ry="4.1" transform="rotate(0 133.5 74.1)" fill="#0a0a96"/>
<ellipse cx="138.2" cy="63.3" rx="2.2" ry="2.2" transform="rotate(0 138.2 63.3)" fill="#0a0a96"/>
<ellipse cx="88.6" cy="116.4" rx="3.4" ry="3.2" transform="rotate(0 88.6 116.4)" fill="#0a0a96"/>
<ellipse cx="134.0" cy="74.4" rx="4.3" ry="4.1" transform="rotate(0 134.0 74.4)" fill="#0a0a96"/>
<ellipse cx="166.6" cy="106.2" rx="2.8" ry="3.2" transform="rotate(0 166.6 106.2)" fill="#0a0a96"/>
<ellipse cx="96.1" cy="11.2" rx="1.9" ry="1.5" transform="rotate(0 96.1 11.2)" fill="#0a0a96"/>
<path d="M35.6,91.4 C37.0,90.0 40.3,90.1 42.2,90.4 C44.1,90.8 46.2,91.8 46.9,93.3 C47.5,94.7 47.2,97.3 45.9,98.9 C44.7,100.4 41.4,102.6 39.4,102.6 C37.3,102.6 34.4,100.7 33.8,98.9 C33.1,97.0 34.2,92.8 35.6,91.4Z" fill="#0a0a96"/>
<ellipse cx="117.7" cy="38.4" rx="3.0" ry="2.4" transform="rotate(30 117.7 38.4)" fill="#a2ecf5"/>
<ellipse cx="99.1" cy="100.3" rx="3.2" ry="3.2" transform="rotate(0 99.1 100.3)" fill="#a2ecf5"/>
<ellipse cx="106.6" cy="116.6" rx="4.5" ry="4.5" transform="rotate(0 106.6 116.6)" fill="#a2ecf5"/>
</g>
<use href="#riv"/>
<text x="76.3" y="96.1" font-size="4.5" text-anchor="middle" transform="rotate(-40 76.3 96.1)" fill="#1a2a55">Mahi R.</text>
<text x="49.7" y="124.2" font-size="4.5" text-anchor="middle" transform="rotate(-42 49.7 124.2)" fill="#1a2a55">Mahi R.</text>
<text x="72.2" y="114.9" font-size="4.5" text-anchor="middle" transform="rotate(78 72.2 114.9)" fill="#1a2a55">Panam R.</text>
<text x="82.8" y="51.6" font-size="4.5" text-anchor="middle" transform="rotate(-22 82.8 51.6)" fill="#1a2a55">Som R.</text>
<text x="112.6" y="39.9" font-size="4.5" text-anchor="middle" transform="rotate(-38 112.6 39.9)" fill="#1a2a55">Jakham R.</text>
<text x="125.1" y="81.0" font-size="4.5" text-anchor="middle" transform="rotate(62 125.1 81.0)" fill="#1a2a55">Mahi R.</text>
<text x="113.2" y="101.8" font-size="4.5" text-anchor="middle" transform="rotate(62 113.2 101.8)" fill="#1a2a55">Anas R.</text>
<use href="#dots"/>
</g>
<text x="6.3" y="11.5" font-size="6.3" letter-spacing="0.17">2 Day Rainfall</text>
<text x="3.1" y="20.5" font-size="6.0" >August 30 - 31, 1973</text>
<text x="119.6" y="11.2" font-size="7.1" >Mahi Basin</text>
<text x="167.4" y="16.4" font-size="9.0" font-weight="bold">b</text>
<text x="5.4" y="58.0" font-size="6">Rainfall (mm)</text>
<rect x="5.4" y="62.3" width="7.6" height="3.7" fill="#a2ecf5"/>
<text x="14.4" y="66.3" font-size="6">1 - 65</text>
<rect x="5.4" y="70.4" width="7.6" height="3.7" fill="#43a6e8"/>
<text x="14.4" y="74.4" font-size="6">66 - 130</text>
<rect x="5.4" y="78.5" width="7.6" height="3.7" fill="#0a78e6"/>
<text x="14.4" y="82.5" font-size="6">131 - 195</text>
<rect x="5.4" y="86.6" width="7.6" height="3.7" fill="#0a3cc8"/>
<text x="14.4" y="90.6" font-size="6">196 - 260</text>
<rect x="5.4" y="94.7" width="7.6" height="3.7" fill="#0a0a96"/>
<text x="14.4" y="98.7" font-size="6">260 - 325</text>
<circle cx="55.9" cy="154.4" r="0.85" fill="#0a0a14"/>
<text x="62.2" y="156.2" font-size="6">Raingauge Stations</text>
<path d="M123.1,155.2V159.2H146.5V155.2" fill="none" stroke="#444" stroke-width="0.6"/>
<text x="123.3" y="153.4" font-size="6" text-anchor="middle">0</text>
<text x="151.0" y="153.4" font-size="6" text-anchor="middle">40 km</text>
<use href="#compass" x="169.9" y="149.2"/>
<text x="28.0" y="168.6" font-size="6" text-anchor="middle">73°E</text>
<text x="89.8" y="168.6" font-size="6" text-anchor="middle">74°E</text>
<text x="151.6" y="168.6" font-size="6" text-anchor="middle">75°E</text>
<text x="-1.6" y="46.7" font-size="6" text-anchor="end">24°N</text>
<text x="-1.6" y="109.5" font-size="6" text-anchor="end">23°N</text>
</g>
<g transform="translate(21.4,373.3)">
<rect x="0" y="0" width="184.9" height="161.5" fill="#fff" stroke="#686868" stroke-width="0.9"/>
<path d="M28.0,-1.5V0.5M28.0,161.0V163.0" stroke="#686868" stroke-width="0.7"/>
<path d="M89.8,-1.5V0.5M89.8,161.0V163.0" stroke="#686868" stroke-width="0.7"/>
<path d="M151.6,-1.5V0.5M151.6,161.0V163.0" stroke="#686868" stroke-width="0.7"/>
<path d="M-1.5,44.6H0.5M184.4,44.6H186.4" stroke="#686868" stroke-width="0.7"/>
<path d="M-1.5,107.4H0.5M184.4,107.4H186.4" stroke="#686868" stroke-width="0.7"/>
<g transform="translate(0.0,0.0)">
<g clip-path="url(#bc)">
<path d="M48.1,33.3 L50.9,29.5 L55.6,26.7 L60.3,23.9 L63.5,22.0 L64.0,17.3 L65.9,14.5 L70.6,12.6 L75.3,11.7 L80.9,9.8 L85.6,8.9 L90.3,9.3 L95.9,10.8 L100.6,13.6 L104.3,16.4 L109.0,18.3 L113.7,22.0 L117.5,23.9 L120.3,22.9 L123.1,20.1 L125.9,17.9 L129.7,17.3 L133.4,17.9 L137.2,19.2 L140.0,22.9 L140.5,27.6 L138.6,32.3 L139.0,37.9 L140.9,42.6 L140.0,48.2 L141.8,52.9 L140.0,57.6 L140.9,63.2 L143.7,67.9 L145.6,73.5 L147.5,78.2 L151.2,82.0 L154.9,85.6 L159.6,89.5 L163.4,94.2 L165.3,98.9 L166.2,103.6 L168.1,106.4 L165.3,110.1 L162.4,113.9 L161.5,118.6 L161.5,122.3 L157.8,126.0 L154.9,129.8 L150.3,131.7 L145.6,130.7 L141.8,132.6 L137.2,131.7 L133.4,133.5 L128.7,132.6 L125.0,135.4 L121.2,133.5 L116.5,130.7 L112.8,129.8 L107.8,133.0 L102.7,136.4 L98.1,135.4 L93.4,132.6 L88.7,130.7 L84.0,133.5 L79.3,134.5 L75.6,132.6 L70.9,132.6 L65.3,135.4 L60.6,137.3 L56.6,135.1 L52.7,133.9 L48.0,135.7 L44.3,138.6 L39.6,141.4 L35.8,144.2 L34.0,147.9 L32.6,151.7 L29.3,153.0 L25.5,152.6 L23.3,151.1 L24.6,148.9 L27.4,145.1 L29.3,141.4 L32.1,136.7 L34.9,132.9 L38.8,129.9 L42.3,125.7 L43.1,121.1 L45.8,116.8 L50.1,113.4 L53.8,109.9 L53.3,106.4 L50.3,104.5 L46.5,101.7 L48.4,97.0 L53.1,93.3 L57.8,89.5 L63.4,88.6 L68.1,85.8 L69.0,81.1 L68.7,76.3 L73.4,71.7 L76.2,67.9 L75.3,64.2 L69.7,61.4 L64.0,57.6 L59.4,54.8 L57.5,50.1 L55.6,45.4 L52.8,40.7 L49.0,37.0Z" fill="#0a78e6"/>
<path d="M100.9,14.5 C96.6,17.0 98.5,21.2 98.3,24.4 C98.1,27.5 100.2,30.9 99.6,33.6 C98.9,36.2 96.9,38.3 94.3,40.1 C91.8,42.0 88.1,43.4 84.5,44.7 C80.9,46.0 76.6,46.6 73.0,48.0 C69.5,49.4 65.9,51.7 63.2,53.2 C60.5,54.8 56.6,55.6 56.6,57.2 C56.6,58.7 60.7,61.9 63.2,62.4 C65.6,63.0 68.9,60.4 71.4,60.4 C73.8,60.4 76.5,60.9 77.9,62.4 C79.4,63.9 78.8,68.1 79.9,69.6 C81.0,71.1 82.4,71.6 84.5,71.6 C86.6,71.6 89.7,69.2 92.7,69.6 C95.7,70.1 99.8,72.6 102.5,74.2 C105.3,75.8 107.4,79.3 109.1,79.5 C110.8,79.6 112.6,77.3 112.7,75.2 C112.8,73.1 110.2,69.7 109.4,67.0 C108.7,64.3 107.8,61.6 108.1,58.8 C108.4,56.0 109.3,52.5 111.4,49.9 C113.5,47.4 117.1,45.2 120.6,43.4 C124.0,41.6 128.5,39.3 132.0,39.1 C135.6,39.0 139.1,42.7 141.9,42.4 C144.6,42.1 147.9,41.0 148.4,37.5 C149.0,33.9 149.3,25.7 145.2,21.1 C141.1,16.4 131.2,10.7 123.8,9.6 C116.5,8.5 105.2,12.1 100.9,14.5Z" fill="#43a6e8"/>
<path d="M87.8,91.6 C89.4,89.4 92.7,87.8 96.0,86.7 C99.3,85.6 103.4,84.7 107.5,85.0 C111.6,85.4 116.2,87.5 120.6,88.6 C124.9,89.8 130.1,92.1 133.7,91.9 C137.3,91.7 140.1,89.4 142.2,87.3 C144.3,85.2 145.7,82.5 146.1,79.5 C146.6,76.4 143.9,70.7 144.8,69.0 C145.8,67.2 149.5,67.2 151.7,69.0 C154.0,70.7 156.1,76.1 158.3,79.5 C160.5,82.8 162.4,85.9 164.8,89.3 C167.3,92.7 171.7,90.4 173.0,99.8 C174.4,109.2 184.8,138.0 173.0,145.7 C161.3,153.3 114.9,148.4 102.5,145.7 C90.1,143.0 99.4,134.2 98.6,129.3 C97.8,124.4 98.6,120.0 97.6,116.2 C96.6,112.4 94.6,109.1 92.7,106.3 C90.8,103.6 87.3,102.2 86.5,99.8 C85.6,97.3 86.2,93.8 87.8,91.6Z" fill="#43a6e8"/>
<ellipse cx="42.5" cy="144.0" rx="9.2" ry="3.0" transform="rotate(-45 42.5 144.0)" fill="#43a6e8"/>
<path d="M70.7,79.5 C71.2,77.8 75.0,75.7 77.3,74.9 C79.6,74.0 82.8,73.6 84.5,74.2 C86.3,74.8 88.1,76.9 87.8,78.5 C87.5,80.0 85.0,82.4 82.9,83.4 C80.7,84.4 76.7,85.4 74.7,84.7 C72.6,84.0 70.3,81.1 70.7,79.5Z" fill="#43a6e8"/>
<path d="M157.3,98.1 C158.2,96.0 161.1,94.2 163.2,93.9 C165.3,93.6 168.7,93.6 169.7,96.5 C170.8,99.4 170.8,108.6 169.7,111.3 C168.7,113.9 165.2,113.0 163.2,112.2 C161.2,111.5 158.9,109.3 157.9,107.0 C157.0,104.6 156.4,100.3 157.3,98.1Z" fill="#0a78e6"/>
<path d="M128.5,27.7 C130.2,25.9 132.7,25.5 135.1,25.4 C137.4,25.4 141.2,24.1 142.6,27.3 C144.0,30.5 144.8,41.2 143.5,44.5 C142.3,47.9 137.7,47.2 135.1,47.3 C132.4,47.5 129.3,47.3 127.6,45.5 C125.9,43.6 124.8,39.1 125.0,36.1 C125.1,33.1 126.8,29.5 128.5,27.7Z" fill="#0a78e6"/>
<path d="M48.4,90.6 C50.1,88.0 54.0,87.7 56.6,87.3 C59.3,86.9 62.6,87.4 64.2,88.3 C65.8,89.2 66.6,91.2 66.1,92.6 C65.7,93.9 63.5,95.4 61.6,96.5 C59.6,97.6 56.8,98.0 54.3,99.1 C51.9,100.2 47.8,104.5 46.8,103.1 C45.8,101.6 46.8,93.2 48.4,90.6Z" fill="#0a3cc8"/>
<path d="M133.0,59.8 C134.1,58.1 136.4,57.3 137.6,57.8 C138.8,58.4 140.0,61.0 140.2,63.1 C140.5,65.1 139.5,67.9 138.9,70.3 C138.4,72.7 137.9,76.0 137.0,77.5 C136.0,79.0 134.2,79.8 133.0,79.5 C131.8,79.1 130.1,77.2 129.7,75.2 C129.4,73.2 130.5,70.2 131.1,67.7 C131.6,65.1 131.9,61.4 133.0,59.8Z" fill="#0a3cc8"/>
<ellipse cx="88.4" cy="117.2" rx="4.3" ry="3.9" transform="rotate(0 88.4 117.2)" fill="#0a3cc8"/>
<ellipse cx="119.9" cy="11.9" rx="0.0" ry="0.0" transform="rotate(0 119.9 11.9)" fill="#0a3cc8"/>
<ellipse cx="88.4" cy="117.5" rx="2.0" ry="1.6" transform="rotate(0 88.4 117.5)" fill="#0a0a96"/>
<ellipse cx="137.0" cy="63.7" rx="1.6" ry="1.6" transform="rotate(0 137.0 63.7)" fill="#0a0a96"/>
<ellipse cx="134.0" cy="75.5" rx="1.3" ry="1.3" transform="rotate(0 134.0 75.5)" fill="#0a0a96"/>
<ellipse cx="117.9" cy="37.8" rx="2.6" ry="2.3" transform="rotate(30 117.9 37.8)" fill="#a2ecf5"/>
<ellipse cx="98.6" cy="100.8" rx="3.0" ry="3.0" transform="rotate(0 98.6 100.8)" fill="#a2ecf5"/>
<ellipse cx="106.5" cy="117.8" rx="6.6" ry="6.6" transform="rotate(0 106.5 117.8)" fill="#a2ecf5"/>
<ellipse cx="139.3" cy="106.3" rx="2.3" ry="2.3" transform="rotate(0 139.3 106.3)" fill="#a2ecf5"/>
</g>
<use href="#riv"/>
<text x="76.3" y="96.1" font-size="4.5" text-anchor="middle" transform="rotate(-40 76.3 96.1)" fill="#1a2a55">Mahi R.</text>
<text x="49.7" y="124.2" font-size="4.5" text-anchor="middle" transform="rotate(-42 49.7 124.2)" fill="#1a2a55">Mahi R.</text>
<text x="72.2" y="114.9" font-size="4.5" text-anchor="middle" transform="rotate(78 72.2 114.9)" fill="#1a2a55">Panam R.</text>
<text x="82.8" y="51.6" font-size="4.5" text-anchor="middle" transform="rotate(-22 82.8 51.6)" fill="#1a2a55">Som R.</text>
<text x="112.6" y="39.9" font-size="4.5" text-anchor="middle" transform="rotate(-38 112.6 39.9)" fill="#1a2a55">Jakham R.</text>
<text x="125.1" y="81.0" font-size="4.5" text-anchor="middle" transform="rotate(62 125.1 81.0)" fill="#1a2a55">Mahi R.</text>
<text x="113.2" y="101.8" font-size="4.5" text-anchor="middle" transform="rotate(62 113.2 101.8)" fill="#1a2a55">Anas R.</text>
<use href="#dots"/>
</g>
<text x="4.9" y="8.7" font-size="6.3" letter-spacing="0.17">3 Day Rainfall</text>
<text x="2.7" y="18.2" font-size="6.0" >August 30 - 31, 1973</text>
<text x="23.0" y="24.5" font-size="6.2" text-anchor="middle">&amp;</text>
<text x="1.7" y="30.8" font-size="6.0" >September 1, 1973</text>
<text x="119.7" y="11.2" font-size="7.1" >Mahi Basin</text>
<text x="166.9" y="14.6" font-size="9.0" font-weight="bold">c</text>
<text x="5.5" y="58.0" font-size="6">Rainfall (mm)</text>
<rect x="5.5" y="62.3" width="7.6" height="3.7" fill="#a2ecf5"/>
<text x="14.5" y="66.3" font-size="6">15 - 115</text>
<rect x="5.5" y="70.5" width="7.6" height="3.7" fill="#43a6e8"/>
<text x="14.5" y="74.5" font-size="6">116 - 215</text>
<rect x="5.5" y="78.7" width="7.6" height="3.7" fill="#0a78e6"/>
<text x="14.5" y="82.7" font-size="6">216 - 315</text>
<rect x="5.5" y="86.9" width="7.6" height="3.7" fill="#0a3cc8"/>
<text x="14.5" y="90.9" font-size="6">316 - 415</text>
<rect x="5.5" y="95.1" width="7.6" height="3.7" fill="#0a0a96"/>
<text x="14.5" y="99.1" font-size="6">416 - 515</text>
<circle cx="54.7" cy="151.6" r="0.85" fill="#0a0a14"/>
<text x="61.0" y="153.4" font-size="6">Raingauge Stations</text>
<path d="M118.9,152.8V156.8H141.4V152.8" fill="none" stroke="#444" stroke-width="0.6"/>
<text x="119.1" y="151.0" font-size="6" text-anchor="middle">0</text>
<text x="145.9" y="151.0" font-size="6" text-anchor="middle">40 km</text>
<use href="#compass" x="167.3" y="146.6"/>
<text x="28.0" y="168.7" font-size="6" text-anchor="middle">73°E</text>
<text x="89.8" y="168.7" font-size="6" text-anchor="middle">74°E</text>
<text x="151.6" y="168.7" font-size="6" text-anchor="middle">75°E</text>
<text x="-1.6" y="46.7" font-size="6" text-anchor="end">24°N</text>
<text x="-1.6" y="109.5" font-size="6" text-anchor="end">23°N</text>
</g>
<g transform="translate(234.0,12.9)">
<rect x="0" y="0" width="184.7" height="161.2" fill="#fff" stroke="#686868" stroke-width="0.9"/>
<path d="M28.0,-1.5V0.5M28.0,160.7V162.7" stroke="#686868" stroke-width="0.7"/>
<path d="M89.8,-1.5V0.5M89.8,160.7V162.7" stroke="#686868" stroke-width="0.7"/>
<path d="M151.6,-1.5V0.5M151.6,160.7V162.7" stroke="#686868" stroke-width="0.7"/>
<path d="M-1.5,44.6H0.5M184.2,44.6H186.2" stroke="#686868" stroke-width="0.7"/>
<path d="M-1.5,107.4H0.5M184.2,107.4H186.2" stroke="#686868" stroke-width="0.7"/>
<g transform="translate(0.0,0.0)">
<g clip-path="url(#bc)">
<path d="M48.1,33.3 L50.9,29.5 L55.6,26.7 L60.3,23.9 L63.5,22.0 L64.0,17.3 L65.9,14.5 L70.6,12.6 L75.3,11.7 L80.9,9.8 L85.6,8.9 L90.3,9.3 L95.9,10.8 L100.6,13.6 L104.3,16.4 L109.0,18.3 L113.7,22.0 L117.5,23.9 L120.3,22.9 L123.1,20.1 L125.9,17.9 L129.7,17.3 L133.4,17.9 L137.2,19.2 L140.0,22.9 L140.5,27.6 L138.6,32.3 L139.0,37.9 L140.9,42.6 L140.0,48.2 L141.8,52.9 L140.0,57.6 L140.9,63.2 L143.7,67.9 L145.6,73.5 L147.5,78.2 L151.2,82.0 L154.9,85.6 L159.6,89.5 L163.4,94.2 L165.3,98.9 L166.2,103.6 L168.1,106.4 L165.3,110.1 L162.4,113.9 L161.5,118.6 L161.5,122.3 L157.8,126.0 L154.9,129.8 L150.3,131.7 L145.6,130.7 L141.8,132.6 L137.2,131.7 L133.4,133.5 L128.7,132.6 L125.0,135.4 L121.2,133.5 L116.5,130.7 L112.8,129.8 L107.8,133.0 L102.7,136.4 L98.1,135.4 L93.4,132.6 L88.7,130.7 L84.0,133.5 L79.3,134.5 L75.6,132.6 L70.9,132.6 L65.3,135.4 L60.6,137.3 L56.6,135.1 L52.7,133.9 L48.0,135.7 L44.3,138.6 L39.6,141.4 L35.8,144.2 L34.0,147.9 L32.6,151.7 L29.3,153.0 L25.5,152.6 L23.3,151.1 L24.6,148.9 L27.4,145.1 L29.3,141.4 L32.1,136.7 L34.9,132.9 L38.8,129.9 L42.3,125.7 L43.1,121.1 L45.8,116.8 L50.1,113.4 L53.8,109.9 L53.3,106.4 L50.3,104.5 L46.5,101.7 L48.4,97.0 L53.1,93.3 L57.8,89.5 L63.4,88.6 L68.1,85.8 L69.0,81.1 L68.7,76.3 L73.4,71.7 L76.2,67.9 L75.3,64.2 L69.7,61.4 L64.0,57.6 L59.4,54.8 L57.5,50.1 L55.6,45.4 L52.8,40.7 L49.0,37.0Z" fill="#a2ecf5"/>
<path d="M77.3,21.5 C77.3,19.3 78.4,16.7 80.6,14.9 C82.8,13.2 87.2,11.5 90.5,11.0 C93.7,10.5 97.3,10.7 100.3,11.7 C103.3,12.6 105.8,14.7 108.5,16.6 C111.2,18.5 115.1,21.1 116.7,23.1 C118.3,25.2 118.8,27.3 118.0,28.7 C117.2,30.1 114.4,30.7 111.8,31.3 C109.1,31.9 104.9,32.0 101.9,32.3 C98.9,32.6 96.2,33.5 93.7,33.3 C91.3,33.1 89.4,32.2 87.2,31.3 C85.0,30.5 82.3,29.7 80.6,28.1 C79.0,26.4 77.3,23.7 77.3,21.5Z" fill="#43a6e8"/>
<ellipse cx="95.0" cy="11.8" rx="2.4" ry="2.1" transform="rotate(0 95.0 11.8)" fill="#0a78e6"/>
<path d="M46.3,33.8 C46.9,32.2 52.2,30.8 54.7,30.0 C57.2,29.2 59.3,28.9 61.3,29.1 C63.3,29.2 65.7,29.9 66.9,31.0 C68.2,32.0 68.8,33.9 68.8,35.6 C68.8,37.4 67.9,39.5 66.9,41.3 C66.0,43.0 64.6,44.8 63.2,45.9 C61.8,47.1 59.9,48.3 58.5,48.2 C57.1,48.0 56.0,46.5 54.7,45.0 C53.5,43.5 52.4,41.3 51.0,39.4 C49.6,37.5 45.7,35.3 46.3,33.8Z" fill="#43a6e8"/>
<ellipse cx="56.6" cy="38.4" rx="4.9" ry="5.2" transform="rotate(-30 56.6 38.4)" fill="#0a78e6"/>
<ellipse cx="56.2" cy="38.6" rx="3.0" ry="3.4" transform="rotate(-30 56.2 38.6)" fill="#0a3cc8"/>
<ellipse cx="56.0" cy="38.6" rx="1.5" ry="1.7" transform="rotate(-30 56.0 38.6)" fill="#0a0a96"/>
<path d="M89.4,44.1 C90.3,42.7 92.5,42.2 94.1,42.2 C95.6,42.2 97.5,43.0 98.8,44.1 C100.0,45.2 101.3,46.9 101.6,48.7 C101.9,50.6 101.1,53.3 100.6,55.3 C100.2,57.3 99.5,59.2 98.8,60.9 C98.0,62.6 97.0,64.4 96.0,65.6 C94.9,66.9 93.6,67.8 92.2,68.4 C90.8,69.0 88.9,68.7 87.5,69.4 C86.1,70.0 84.9,71.1 83.8,72.2 C82.7,73.3 82.2,75.0 81.0,75.9 C79.7,76.8 77.8,77.4 76.3,77.4 C74.7,77.4 72.2,76.9 71.6,75.9 C71.0,74.9 71.8,72.9 72.5,71.2 C73.3,69.5 75.5,67.3 76.3,65.6 C77.1,63.9 76.4,62.2 77.2,60.9 C78.0,59.7 79.6,59.1 81.0,58.1 C82.4,57.2 84.4,56.6 85.6,55.3 C86.9,54.1 87.8,52.5 88.5,50.6 C89.1,48.7 88.5,45.5 89.4,44.1Z" fill="#43a6e8"/>
<ellipse cx="107.8" cy="78.7" rx="6.2" ry="4.7" transform="rotate(0 107.8 78.7)" fill="#43a6e8"/>
<ellipse cx="107.2" cy="79.3" rx="6.7" ry="5.1" transform="rotate(0 107.2 79.3)" fill="#43a6e8"/>
<path d="M122.2,48.3 C123.5,46.8 125.8,45.4 127.8,44.6 C129.9,43.8 132.4,43.3 134.4,43.7 C136.4,44.0 138.8,44.9 140.0,46.5 C141.2,48.0 141.5,50.8 141.3,53.0 C141.1,55.2 139.9,57.6 138.7,59.6 C137.4,61.6 135.4,63.5 133.8,65.2 C132.3,66.9 130.9,68.5 129.3,69.9 C127.8,71.3 126.1,72.8 124.5,73.6 C122.8,74.5 120.6,75.4 119.4,74.9 C118.2,74.5 117.1,72.8 117.1,71.2 C117.2,69.6 119.1,67.1 120.0,65.2 C120.8,63.3 122.1,61.5 122.2,59.6 C122.3,57.7 120.3,55.8 120.3,54.0 C120.3,52.1 121.0,49.9 122.2,48.3Z" fill="#43a6e8"/>
<path d="M125.0,62.4 C126.0,61.5 128.0,60.8 128.8,61.5 C129.5,62.1 129.7,64.6 129.3,66.1 C128.9,67.7 127.4,69.9 126.3,70.8 C125.3,71.8 123.7,72.4 123.1,71.8 C122.6,71.1 122.8,68.6 123.1,67.1 C123.5,65.5 124.1,63.3 125.0,62.4Z" fill="#0a78e6"/>
<ellipse cx="133.7" cy="20.6" rx="5.8" ry="4.5" transform="rotate(0 133.7 20.6)" fill="#43a6e8"/>
<path d="M159.7,76.4 C155.3,74.6 154.7,80.6 152.2,82.1 C149.7,83.5 146.9,84.5 144.7,85.2 C142.5,86.0 141.3,85.7 139.1,86.7 C136.9,87.8 134.1,89.7 131.6,91.4 C129.1,93.1 126.3,95.3 124.1,97.1 C121.9,98.8 119.7,100.0 118.5,101.7 C117.2,103.5 116.4,105.6 116.6,107.4 C116.7,109.1 118.1,110.3 119.4,112.0 C120.6,113.8 122.8,115.5 124.1,117.7 C125.3,119.8 126.3,122.3 126.9,125.2 C127.5,128.0 127.7,130.5 127.8,134.5 C128.0,138.6 119.4,147.0 127.8,149.5 C136.3,152.0 170.0,158.9 178.4,149.5 C186.8,140.1 181.5,105.5 178.4,93.3 C175.3,81.1 164.0,78.3 159.7,76.4Z" fill="#43a6e8"/>
<ellipse cx="125.0" cy="105.9" rx="3.6" ry="3.4" transform="rotate(0 125.0 105.9)" fill="#0a78e6"/>
<ellipse cx="125.0" cy="105.9" rx="1.5" ry="1.5" transform="rotate(0 125.0 105.9)" fill="#0a3cc8"/>
<ellipse cx="139.1" cy="105.5" rx="5.4" ry="5.2" transform="rotate(0 139.1 105.5)" fill="#a2ecf5"/>
<ellipse cx="165.7" cy="106.4" rx="5.2" ry="6.0" transform="rotate(0 165.7 106.4)" fill="#a2ecf5"/>
</g>
<use href="#riv"/>
<text x="76.3" y="96.1" font-size="4.5" text-anchor="middle" transform="rotate(-40 76.3 96.1)" fill="#1a2a55">Mahi R.</text>
<text x="49.7" y="124.2" font-size="4.5" text-anchor="middle" transform="rotate(-42 49.7 124.2)" fill="#1a2a55">Mahi R.</text>
<text x="72.2" y="114.9" font-size="4.5" text-anchor="middle" transform="rotate(78 72.2 114.9)" fill="#1a2a55">Panam R.</text>
<text x="82.8" y="51.6" font-size="4.5" text-anchor="middle" transform="rotate(-22 82.8 51.6)" fill="#1a2a55">Som R.</text>
<text x="112.6" y="39.9" font-size="4.5" text-anchor="middle" transform="rotate(-38 112.6 39.9)" fill="#1a2a55">Jakham R.</text>
<text x="125.1" y="81.0" font-size="4.5" text-anchor="middle" transform="rotate(62 125.1 81.0)" fill="#1a2a55">Mahi R.</text>
<text x="113.2" y="101.8" font-size="4.5" text-anchor="middle" transform="rotate(62 113.2 101.8)" fill="#1a2a55">Anas R.</text>
<use href="#dots"/>
</g>
<text x="5.8" y="11.3" font-size="6.3" letter-spacing="0.17">1 Day Rainfall</text>
<text x="1.2" y="19.9" font-size="6.0" >September 7, 1973</text>
<text x="118.7" y="10.0" font-size="7.1" >Mahi Basin</text>
<text x="166.5" y="12.2" font-size="9.0" font-weight="bold">d</text>
<text x="3.3" y="55.4" font-size="6">Rainfall (mm)</text>
<rect x="3.3" y="61.8" width="7.6" height="3.7" fill="#a2ecf5"/>
<text x="12.3" y="65.8" font-size="6">0 - 90</text>
<rect x="3.3" y="70.0" width="7.6" height="3.7" fill="#43a6e8"/>
<text x="12.3" y="74.0" font-size="6">91 - 180</text>
<rect x="3.3" y="78.1" width="7.6" height="3.7" fill="#0a78e6"/>
<text x="12.3" y="82.1" font-size="6">181 - 270</text>
<rect x="3.3" y="86.2" width="7.6" height="3.7" fill="#0a3cc8"/>
<text x="12.3" y="90.2" font-size="6">271 - 360</text>
<rect x="3.3" y="94.4" width="7.6" height="3.7" fill="#0a0a96"/>
<text x="12.3" y="98.4" font-size="6">361 - 450</text>
<circle cx="58.7" cy="154.6" r="0.85" fill="#0a0a14"/>
<text x="65.0" y="156.4" font-size="6">Raingauge Stations</text>
<path d="M120.9,155.3V159.3H142.5V155.3" fill="none" stroke="#444" stroke-width="0.6"/>
<text x="121.1" y="153.5" font-size="6" text-anchor="middle">0</text>
<text x="147.0" y="153.5" font-size="6" text-anchor="middle">40 km</text>
<use href="#compass" x="169.4" y="147.3"/>
<text x="28.0" y="168.4" font-size="6" text-anchor="middle">73°E</text>
<text x="89.8" y="168.4" font-size="6" text-anchor="middle">74°E</text>
<text x="151.6" y="168.4" font-size="6" text-anchor="middle">75°E</text>
<text x="-1.6" y="46.7" font-size="6" text-anchor="end">24°N</text>
<text x="-1.6" y="109.5" font-size="6" text-anchor="end">23°N</text>
</g>
<g transform="translate(234.7,193.6)">
<rect x="0" y="0" width="185.0" height="160.9" fill="#fff" stroke="#686868" stroke-width="0.9"/>
<path d="M28.0,-1.5V0.5M28.0,160.4V162.4" stroke="#686868" stroke-width="0.7"/>
<path d="M89.8,-1.5V0.5M89.8,160.4V162.4" stroke="#686868" stroke-width="0.7"/>
<path d="M151.6,-1.5V0.5M151.6,160.4V162.4" stroke="#686868" stroke-width="0.7"/>
<path d="M-1.5,44.6H0.5M184.5,44.6H186.5" stroke="#686868" stroke-width="0.7"/>
<path d="M-1.5,107.4H0.5M184.5,107.4H186.5" stroke="#686868" stroke-width="0.7"/>
<g transform="translate(0.0,0.0)">
<g clip-path="url(#bc)">
<path d="M48.1,33.3 L50.9,29.5 L55.6,26.7 L60.3,23.9 L63.5,22.0 L64.0,17.3 L65.9,14.5 L70.6,12.6 L75.3,11.7 L80.9,9.8 L85.6,8.9 L90.3,9.3 L95.9,10.8 L100.6,13.6 L104.3,16.4 L109.0,18.3 L113.7,22.0 L117.5,23.9 L120.3,22.9 L123.1,20.1 L125.9,17.9 L129.7,17.3 L133.4,17.9 L137.2,19.2 L140.0,22.9 L140.5,27.6 L138.6,32.3 L139.0,37.9 L140.9,42.6 L140.0,48.2 L141.8,52.9 L140.0,57.6 L140.9,63.2 L143.7,67.9 L145.6,73.5 L147.5,78.2 L151.2,82.0 L154.9,85.6 L159.6,89.5 L163.4,94.2 L165.3,98.9 L166.2,103.6 L168.1,106.4 L165.3,110.1 L162.4,113.9 L161.5,118.6 L161.5,122.3 L157.8,126.0 L154.9,129.8 L150.3,131.7 L145.6,130.7 L141.8,132.6 L137.2,131.7 L133.4,133.5 L128.7,132.6 L125.0,135.4 L121.2,133.5 L116.5,130.7 L112.8,129.8 L107.8,133.0 L102.7,136.4 L98.1,135.4 L93.4,132.6 L88.7,130.7 L84.0,133.5 L79.3,134.5 L75.6,132.6 L70.9,132.6 L65.3,135.4 L60.6,137.3 L56.6,135.1 L52.7,133.9 L48.0,135.7 L44.3,138.6 L39.6,141.4 L35.8,144.2 L34.0,147.9 L32.6,151.7 L29.3,153.0 L25.5,152.6 L23.3,151.1 L24.6,148.9 L27.4,145.1 L29.3,141.4 L32.1,136.7 L34.9,132.9 L38.8,129.9 L42.3,125.7 L43.1,121.1 L45.8,116.8 L50.1,113.4 L53.8,109.9 L53.3,106.4 L50.3,104.5 L46.5,101.7 L48.4,97.0 L53.1,93.3 L57.8,89.5 L63.4,88.6 L68.1,85.8 L69.0,81.1 L68.7,76.3 L73.4,71.7 L76.2,67.9 L75.3,64.2 L69.7,61.4 L64.0,57.6 L59.4,54.8 L57.5,50.1 L55.6,45.4 L52.8,40.7 L49.0,37.0Z" fill="#0a78e6"/>
<path d="M41.6,33.3 C42.2,29.8 49.4,25.4 52.8,22.0 C56.2,18.6 58.7,14.8 62.2,12.6 C65.6,10.5 70.1,9.4 73.4,8.9 C76.7,8.4 80.6,8.4 81.8,9.8 C83.0,11.2 81.6,15.0 80.5,17.3 C79.4,19.7 76.8,21.5 75.3,23.9 C73.7,26.2 72.2,29.2 71.2,31.4 C70.2,33.6 69.5,35.0 69.3,37.0 C69.1,39.0 69.3,41.4 70.0,43.6 C70.7,45.7 73.1,48.1 73.4,50.1 C73.7,52.1 71.6,53.9 71.9,55.7 C72.2,57.6 74.4,59.6 75.3,61.4 C76.2,63.1 78.4,65.7 77.2,66.0 C75.9,66.3 71.2,64.9 67.8,63.2 C64.3,61.5 59.7,59.2 56.5,55.7 C53.4,52.3 51.5,46.4 49.0,42.6 C46.5,38.9 40.9,36.7 41.6,33.3Z" fill="#43a6e8"/>
<path d="M20.3,155.1 C19.1,152.3 24.7,145.1 27.8,138.2 C30.9,131.4 35.9,121.1 39.0,113.9 C42.2,106.7 43.4,99.5 46.5,95.1 C49.7,90.8 54.7,88.7 57.8,87.6 C60.9,86.5 62.9,88.7 65.3,88.6 C67.6,88.4 70.4,85.0 71.8,86.7 C73.2,88.4 73.1,95.6 73.7,98.9 C74.3,102.2 75.1,103.9 75.6,106.4 C76.0,108.9 76.2,111.4 76.5,113.9 C76.8,116.4 77.0,119.2 77.5,121.4 C77.9,123.6 78.7,124.8 79.3,127.0 C80.0,129.2 82.3,132.3 81.2,134.5 C80.1,136.7 76.7,139.0 72.8,140.1 C68.9,141.2 62.2,140.7 57.8,141.0 C53.4,141.3 50.3,139.6 46.5,142.0 C42.8,144.3 39.7,152.9 35.3,155.1 C30.9,157.3 21.6,157.9 20.3,155.1Z" fill="#43a6e8"/>
<path d="M127.8,27.6 C128.6,26.1 131.6,25.8 133.4,26.1 C135.2,26.4 137.4,27.7 138.6,29.5 C139.9,31.3 140.8,34.4 140.9,37.0 C141.0,39.6 140.3,43.2 139.4,44.9 C138.5,46.5 136.6,47.3 135.3,46.7 C134.0,46.2 132.6,43.6 131.5,41.7 C130.4,39.7 129.3,37.5 128.7,35.1 C128.1,32.8 127.0,29.1 127.8,27.6Z" fill="#43a6e8"/>
<path d="M135.3,54.8 C136.7,53.2 141.1,52.5 142.8,53.9 C144.5,55.3 145.4,60.3 145.6,63.2 C145.7,66.2 145.0,70.5 143.7,71.7 C142.5,72.8 139.6,71.8 138.1,70.3 C136.5,68.9 134.8,65.8 134.3,63.2 C133.9,60.6 133.9,56.4 135.3,54.8Z" fill="#43a6e8"/>
<path d="M89.4,45.8 C90.6,44.1 91.4,42.6 93.1,41.6 C94.8,40.7 97.5,40.2 99.7,40.1 C101.8,40.0 104.2,40.4 106.2,41.1 C108.2,41.7 110.0,42.9 111.8,43.9 C113.7,44.8 115.7,45.6 117.5,46.7 C119.2,47.8 120.7,49.0 122.1,50.4 C123.5,51.8 124.8,53.4 125.9,55.1 C127.0,56.8 127.8,58.9 128.7,60.7 C129.6,62.6 130.3,64.6 131.5,66.4 C132.8,68.1 135.1,69.3 136.2,71.0 C137.3,72.8 138.1,74.8 138.1,76.7 C138.1,78.5 137.1,80.7 136.2,82.3 C135.3,83.9 133.4,84.5 132.4,86.0 C131.5,87.6 130.7,89.6 130.6,91.7 C130.4,93.7 131.5,96.0 131.5,98.2 C131.5,100.4 131.0,102.9 130.6,104.8 C130.1,106.6 129.8,108.4 128.7,109.5 C127.6,110.5 125.6,111.5 124.0,111.3 C122.5,111.2 120.7,109.8 119.3,108.5 C117.9,107.3 116.8,105.6 115.6,103.8 C114.3,102.1 113.2,99.9 111.8,98.2 C110.4,96.5 108.9,94.6 107.2,93.5 C105.4,92.4 103.6,92.0 101.5,91.7 C99.5,91.3 97.2,91.5 95.0,91.7 C92.8,91.8 90.4,92.6 88.4,92.6 C86.4,92.6 84.5,92.4 82.8,91.7 C81.1,90.9 79.4,89.3 78.1,87.9 C76.9,86.5 76.1,84.9 75.3,83.2 C74.5,81.5 73.4,79.5 73.4,77.6 C73.4,75.7 74.5,73.7 75.3,72.0 C76.1,70.3 77.2,69.0 78.1,67.3 C79.0,65.6 80.1,63.6 80.9,61.7 C81.7,59.8 82.0,57.8 82.8,56.1 C83.6,54.3 84.5,53.1 85.6,51.4 C86.7,49.7 88.1,47.4 89.4,45.8Z" fill="#0a3cc8"/>
<ellipse cx="95.0" cy="47.6" rx="3.0" ry="2.8" transform="rotate(0 95.0 47.6)" fill="#0a0a96"/>
<ellipse cx="91.2" cy="64.1" rx="2.6" ry="2.6" transform="rotate(0 91.2 64.1)" fill="#0a0a96"/>
<ellipse cx="99.7" cy="85.5" rx="1.5" ry="1.5" transform="rotate(0 99.7 85.5)" fill="#0a0a96"/>
<ellipse cx="103.4" cy="59.8" rx="2.8" ry="2.6" transform="rotate(0 103.4 59.8)" fill="#0a78e6"/>
<ellipse cx="103.4" cy="59.8" rx="1.3" ry="1.3" transform="rotate(0 103.4 59.8)" fill="#43a6e8"/>
<ellipse cx="115.6" cy="57.9" rx="1.9" ry="1.9" transform="rotate(0 115.6 57.9)" fill="#0a78e6"/>
<ellipse cx="107.5" cy="90.3" rx="2.1" ry="1.9" transform="rotate(0 107.5 90.3)" fill="#0a78e6"/>
<ellipse cx="92.2" cy="34.9" rx="2.2" ry="2.2" transform="rotate(0 92.2 34.9)" fill="#43a6e8"/>
<ellipse cx="138.4" cy="105.0" rx="5.4" ry="5.6" transform="rotate(0 138.4 105.0)" fill="#43a6e8"/>
<ellipse cx="105.6" cy="116.6" rx="9.4" ry="12.4" transform="rotate(0 105.6 116.6)" fill="#43a6e8"/>
<ellipse cx="105.6" cy="116.2" rx="3.6" ry="3.6" transform="rotate(0 105.6 116.2)" fill="#a2ecf5"/>
<ellipse cx="168.1" cy="106.4" rx="2.4" ry="3.0" transform="rotate(0 168.1 106.4)" fill="#43a6e8"/>
<ellipse cx="25.0" cy="145.7" rx="4.7" ry="1.5" transform="rotate(-50 25.0 145.7)" fill="#a2ecf5"/>
<ellipse cx="57.3" cy="39.5" rx="1.6" ry="1.6" transform="rotate(0 57.3 39.5)" fill="#a2ecf5"/>
</g>
<use href="#riv"/>
<text x="76.3" y="96.1" font-size="4.5" text-anchor="middle" transform="rotate(-40 76.3 96.1)" fill="#1a2a55">Mahi R.</text>
<text x="49.7" y="124.2" font-size="4.5" text-anchor="middle" transform="rotate(-42 49.7 124.2)" fill="#1a2a55">Mahi R.</text>
<text x="72.2" y="114.9" font-size="4.5" text-anchor="middle" transform="rotate(78 72.2 114.9)" fill="#1a2a55">Panam R.</text>
<text x="82.8" y="51.6" font-size="4.5" text-anchor="middle" transform="rotate(-22 82.8 51.6)" fill="#1a2a55">Som R.</text>
<text x="112.6" y="39.9" font-size="4.5" text-anchor="middle" transform="rotate(-38 112.6 39.9)" fill="#1a2a55">Jakham R.</text>
<text x="125.1" y="81.0" font-size="4.5" text-anchor="middle" transform="rotate(62 125.1 81.0)" fill="#1a2a55">Mahi R.</text>
<text x="113.2" y="101.8" font-size="4.5" text-anchor="middle" transform="rotate(62 113.2 101.8)" fill="#1a2a55">Anas R.</text>
<use href="#dots"/>
</g>
<text x="5.2" y="13.4" font-size="6.3" letter-spacing="0.17">2 Day Rainfall</text>
<text x="1.0" y="22.6" font-size="6.0" stroke="#fff" stroke-width="1.6" stroke-linejoin="round" paint-order="stroke">September 7 - 8, 1973</text>
<text x="119.3" y="10.8" font-size="7.1" >Mahi Basin</text>
<text x="164.3" y="12.3" font-size="10.0" font-weight="bold" style="font-family:&quot;Liberation Serif&quot;,serif">e</text>
<text x="4.2" y="55.8" font-size="6">Rainfall (mm)</text>
<rect x="4.2" y="62.0" width="7.6" height="3.7" fill="#a2ecf5"/>
<text x="13.2" y="66.0" font-size="6">1 - 70</text>
<rect x="4.2" y="70.1" width="7.6" height="3.7" fill="#43a6e8"/>
<text x="13.2" y="74.1" font-size="6">71 - 140</text>
<rect x="4.2" y="78.2" width="7.6" height="3.7" fill="#0a78e6"/>
<text x="13.2" y="82.2" font-size="6">141 - 210</text>
<rect x="4.2" y="86.3" width="7.6" height="3.7" fill="#0a3cc8"/>
<text x="13.2" y="90.3" font-size="6">211 - 280</text>
<rect x="4.2" y="94.4" width="7.6" height="3.7" fill="#0a0a96"/>
<text x="13.2" y="98.4" font-size="6">281 - 350</text>
<circle cx="58.7" cy="154.2" r="0.85" fill="#0a0a14"/>
<text x="65.0" y="156.0" font-size="6">Raingauge Stations</text>
<path d="M120.9,154.8V158.8H142.8V154.8" fill="none" stroke="#444" stroke-width="0.6"/>
<text x="121.1" y="153.0" font-size="6" text-anchor="middle">0</text>
<text x="147.3" y="153.0" font-size="6" text-anchor="middle">40 km</text>
<use href="#compass" x="169.6" y="147.1"/>
<text x="28.0" y="168.1" font-size="6" text-anchor="middle">73°E</text>
<text x="89.8" y="168.1" font-size="6" text-anchor="middle">74°E</text>
<text x="151.6" y="168.1" font-size="6" text-anchor="middle">75°E</text>
<text x="-1.6" y="46.7" font-size="6" text-anchor="end">24°N</text>
<text x="-1.6" y="109.5" font-size="6" text-anchor="end">23°N</text>
</g>
<g transform="translate(234.5,374.0)">
<rect x="0" y="0" width="185.2" height="162.2" fill="#fff" stroke="#686868" stroke-width="0.9"/>
<path d="M28.0,-1.5V0.5M28.0,161.7V163.7" stroke="#686868" stroke-width="0.7"/>
<path d="M89.8,-1.5V0.5M89.8,161.7V163.7" stroke="#686868" stroke-width="0.7"/>
<path d="M151.6,-1.5V0.5M151.6,161.7V163.7" stroke="#686868" stroke-width="0.7"/>
<path d="M-1.5,44.6H0.5M184.7,44.6H186.7" stroke="#686868" stroke-width="0.7"/>
<path d="M-1.5,107.4H0.5M184.7,107.4H186.7" stroke="#686868" stroke-width="0.7"/>
<g transform="translate(0.0,0.0)">
<g clip-path="url(#bc)">
<path d="M48.1,33.3 L50.9,29.5 L55.6,26.7 L60.3,23.9 L63.5,22.0 L64.0,17.3 L65.9,14.5 L70.6,12.6 L75.3,11.7 L80.9,9.8 L85.6,8.9 L90.3,9.3 L95.9,10.8 L100.6,13.6 L104.3,16.4 L109.0,18.3 L113.7,22.0 L117.5,23.9 L120.3,22.9 L123.1,20.1 L125.9,17.9 L129.7,17.3 L133.4,17.9 L137.2,19.2 L140.0,22.9 L140.5,27.6 L138.6,32.3 L139.0,37.9 L140.9,42.6 L140.0,48.2 L141.8,52.9 L140.0,57.6 L140.9,63.2 L143.7,67.9 L145.6,73.5 L147.5,78.2 L151.2,82.0 L154.9,85.6 L159.6,89.5 L163.4,94.2 L165.3,98.9 L166.2,103.6 L168.1,106.4 L165.3,110.1 L162.4,113.9 L161.5,118.6 L161.5,122.3 L157.8,126.0 L154.9,129.8 L150.3,131.7 L145.6,130.7 L141.8,132.6 L137.2,131.7 L133.4,133.5 L128.7,132.6 L125.0,135.4 L121.2,133.5 L116.5,130.7 L112.8,129.8 L107.8,133.0 L102.7,136.4 L98.1,135.4 L93.4,132.6 L88.7,130.7 L84.0,133.5 L79.3,134.5 L75.6,132.6 L70.9,132.6 L65.3,135.4 L60.6,137.3 L56.6,135.1 L52.7,133.9 L48.0,135.7 L44.3,138.6 L39.6,141.4 L35.8,144.2 L34.0,147.9 L32.6,151.7 L29.3,153.0 L25.5,152.6 L23.3,151.1 L24.6,148.9 L27.4,145.1 L29.3,141.4 L32.1,136.7 L34.9,132.9 L38.8,129.9 L42.3,125.7 L43.1,121.1 L45.8,116.8 L50.1,113.4 L53.8,109.9 L53.3,106.4 L50.3,104.5 L46.5,101.7 L48.4,97.0 L53.1,93.3 L57.8,89.5 L63.4,88.6 L68.1,85.8 L69.0,81.1 L68.7,76.3 L73.4,71.7 L76.2,67.9 L75.3,64.2 L69.7,61.4 L64.0,57.6 L59.4,54.8 L57.5,50.1 L55.6,45.4 L52.8,40.7 L49.0,37.0Z" fill="#0a78e6"/>
<path d="M41.8,34.7 C43.0,30.7 49.2,23.8 53.0,19.7 C56.7,15.7 60.2,12.6 64.2,10.4 C68.3,8.2 73.1,6.9 77.4,6.6 C81.6,6.3 88.1,6.9 89.5,8.5 C90.9,10.1 87.2,13.6 85.8,16.0 C84.4,18.3 82.3,20.4 81.1,22.5 C79.8,24.7 78.9,26.8 78.3,29.1 C77.7,31.4 77.7,34.1 77.4,36.6 C77.0,39.1 76.4,41.6 76.4,44.1 C76.4,46.6 77.0,49.4 77.4,51.6 C77.7,53.8 77.8,55.3 78.3,57.2 C78.8,59.1 80.3,61.1 80.2,62.8 C80.0,64.5 80.0,67.2 77.4,67.5 C74.7,67.8 68.3,67.0 64.2,64.7 C60.2,62.4 56.1,56.9 53.0,53.5 C49.9,50.0 47.4,47.2 45.5,44.1 C43.6,41.0 40.5,38.8 41.8,34.7Z" fill="#43a6e8"/>
<path d="M113.0,13.5 C103.4,15.1 114.7,20.4 115.8,22.9 C116.9,25.4 118.1,26.3 119.5,28.5 C121.0,30.7 123.2,33.5 124.6,36.0 C126.0,38.5 127.0,41.0 128.0,43.5 C128.9,46.0 129.6,48.5 130.2,51.0 C130.8,53.5 131.0,56.0 131.7,58.5 C132.4,61.0 133.4,63.8 134.5,66.0 C135.6,68.2 136.9,69.7 138.3,71.6 C139.7,73.5 141.2,75.3 142.9,77.2 C144.7,79.1 146.4,81.2 148.6,82.8 C150.8,84.5 153.6,85.4 156.1,86.9 C158.6,88.5 160.7,90.7 163.6,92.2 C166.4,93.7 171.4,109.1 172.9,95.9 C174.5,82.8 182.9,27.2 172.9,13.5 C162.9,-0.2 122.5,11.9 113.0,13.5Z" fill="#43a6e8"/>
<path d="M133.6,101.1 C134.9,98.3 136.3,96.9 138.3,95.5 C140.3,94.1 143.1,93.3 145.8,92.7 C148.4,92.0 151.6,91.6 154.2,91.7 C156.9,91.9 159.2,93.0 161.7,93.6 C164.2,94.2 166.1,94.2 169.2,95.5 C172.3,96.7 178.6,94.5 180.4,101.1 C182.3,107.7 184.5,128.9 180.4,134.8 C176.4,140.8 161.4,136.8 156.1,136.7 C150.8,136.6 151.4,135.0 148.6,134.5 C145.8,133.9 141.7,134.2 139.2,133.3 C136.7,132.5 134.9,131.1 133.6,129.2 C132.3,127.3 131.8,124.5 131.4,121.7 C130.9,118.9 130.4,115.8 130.8,112.3 C131.2,108.9 132.4,103.9 133.6,101.1Z" fill="#43a6e8"/>
<path d="M43.6,91.7 C48.0,84.9 48.6,88.8 53.0,88.0 C57.3,87.2 67.5,86.1 69.8,87.1 C72.2,88.0 68.3,91.9 67.0,93.6 C65.8,95.3 63.9,96.1 62.3,97.4 C60.8,98.6 58.7,99.5 57.7,101.1 C56.6,102.7 55.8,104.9 55.8,106.7 C55.8,108.6 56.6,110.8 57.7,112.3 C58.7,113.9 60.8,115.0 62.3,116.1 C63.9,117.2 65.6,117.7 67.0,118.9 C68.4,120.2 69.9,121.6 70.8,123.6 C71.6,125.6 72.0,128.6 72.1,131.1 C72.1,133.6 74.1,137.0 71.0,138.6 C67.8,140.1 59.1,136.4 53.0,140.4 C46.9,144.5 40.5,159.2 34.2,162.9 C28.0,166.7 16.7,168.6 15.5,162.9 C14.3,157.3 22.1,141.1 26.7,129.2 C31.4,117.3 39.2,98.6 43.6,91.7Z" fill="#43a6e8"/>
<path d="M19.2,159.2 C19.6,156.4 24.2,148.3 26.7,144.2 C29.2,140.1 31.7,137.5 34.2,134.8 C36.7,132.2 39.5,129.2 41.7,128.3 C43.9,127.3 46.0,128.3 47.4,129.2 C48.7,130.1 49.9,132.3 49.6,133.9 C49.3,135.5 47.1,137.1 45.5,138.6 C43.9,140.0 41.6,141.1 39.9,142.7 C38.1,144.3 36.6,145.8 35.2,147.9 C33.8,150.1 33.1,153.2 31.4,155.4 C29.7,157.6 26.9,160.4 24.9,161.1 C22.8,161.7 18.9,162.0 19.2,159.2Z" fill="#a2ecf5"/>
<path d="M89.6,36.9 C90.5,35.2 91.7,33.8 93.3,33.2 C94.9,32.6 97.2,32.6 98.9,33.2 C100.6,33.8 102.0,35.5 103.6,36.9 C105.2,38.3 106.7,40.2 108.3,41.6 C109.8,43.0 111.4,44.1 113.0,45.4 C114.5,46.6 116.2,47.7 117.7,49.1 C119.1,50.5 120.3,52.1 121.4,53.8 C122.5,55.5 123.6,57.4 124.2,59.4 C124.8,61.4 124.9,63.8 124.8,66.0 C124.6,68.2 123.9,70.3 123.5,72.5 C123.1,74.7 122.7,76.9 122.3,79.1 C122.0,81.3 122.2,83.8 121.4,85.6 C120.6,87.5 118.9,88.8 117.7,90.3 C116.4,91.9 115.2,93.8 113.9,95.0 C112.7,96.3 111.6,97.2 110.2,97.8 C108.8,98.4 107.2,98.4 105.5,98.8 C103.8,99.1 101.7,99.3 99.9,99.7 C98.0,100.1 96.1,100.7 94.2,101.2 C92.4,101.7 90.5,102.4 88.6,102.5 C86.7,102.6 84.7,102.3 83.0,101.6 C81.3,100.8 79.4,99.4 78.3,97.8 C77.2,96.3 76.6,94.1 76.4,92.2 C76.3,90.3 76.7,88.4 77.4,86.6 C78.0,84.7 79.2,82.8 80.2,81.0 C81.1,79.1 82.2,77.2 83.0,75.3 C83.8,73.5 84.4,71.7 84.9,69.7 C85.3,67.7 85.5,65.3 85.8,63.2 C86.1,61.0 86.5,58.8 86.7,56.6 C87.0,54.4 87.0,52.2 87.1,50.0 C87.3,47.9 87.3,45.7 87.7,43.5 C88.1,41.3 88.6,38.6 89.6,36.9Z" fill="#0a3cc8"/>
<ellipse cx="89.6" cy="74.4" rx="2.6" ry="2.8" transform="rotate(0 89.6 74.4)" fill="#0a0a96"/>
<ellipse cx="89.0" cy="117.5" rx="3.9" ry="3.7" transform="rotate(0 89.0 117.5)" fill="#0a3cc8"/>
<ellipse cx="89.0" cy="117.5" rx="1.9" ry="1.9" transform="rotate(0 89.0 117.5)" fill="#0a0a96"/>
<ellipse cx="102.7" cy="58.1" rx="3.7" ry="4.9" transform="rotate(-25 102.7 58.1)" fill="#0a78e6"/>
<ellipse cx="101.0" cy="54.9" rx="1.5" ry="1.5" transform="rotate(0 101.0 54.9)" fill="#43a6e8"/>
<ellipse cx="103.6" cy="60.3" rx="1.9" ry="1.9" transform="rotate(0 103.6 60.3)" fill="#43a6e8"/>
<ellipse cx="107.4" cy="81.9" rx="2.6" ry="2.4" transform="rotate(0 107.4 81.9)" fill="#0a78e6"/>
<ellipse cx="107.4" cy="81.9" rx="1.5" ry="1.5" transform="rotate(0 107.4 81.9)" fill="#43a6e8"/>
<ellipse cx="107.1" cy="118.6" rx="9.4" ry="12.0" transform="rotate(0 107.1 118.6)" fill="#43a6e8"/>
<ellipse cx="106.3" cy="117.7" rx="3.6" ry="3.6" transform="rotate(0 106.3 117.7)" fill="#a2ecf5"/>
<ellipse cx="57.3" cy="39.4" rx="1.9" ry="1.9" transform="rotate(0 57.3 39.4)" fill="#a2ecf5"/>
<ellipse cx="137.9" cy="63.8" rx="1.5" ry="1.5" transform="rotate(0 137.9 63.8)" fill="#a2ecf5"/>
</g>
<use href="#riv"/>
<text x="76.3" y="96.1" font-size="4.5" text-anchor="middle" transform="rotate(-40 76.3 96.1)" fill="#1a2a55">Mahi R.</text>
<text x="49.7" y="124.2" font-size="4.5" text-anchor="middle" transform="rotate(-42 49.7 124.2)" fill="#1a2a55">Mahi R.</text>
<text x="72.2" y="114.9" font-size="4.5" text-anchor="middle" transform="rotate(78 72.2 114.9)" fill="#1a2a55">Panam R.</text>
<text x="82.8" y="51.6" font-size="4.5" text-anchor="middle" transform="rotate(-22 82.8 51.6)" fill="#1a2a55">Som R.</text>
<text x="112.6" y="39.9" font-size="4.5" text-anchor="middle" transform="rotate(-38 112.6 39.9)" fill="#1a2a55">Jakham R.</text>
<text x="125.1" y="81.0" font-size="4.5" text-anchor="middle" transform="rotate(62 125.1 81.0)" fill="#1a2a55">Mahi R.</text>
<text x="113.2" y="101.8" font-size="4.5" text-anchor="middle" transform="rotate(62 113.2 101.8)" fill="#1a2a55">Anas R.</text>
<use href="#dots"/>
</g>
<text x="6.3" y="11.7" font-size="6.3" letter-spacing="0.17">3 Day Rainfall</text>
<text x="2.2" y="20.7" font-size="6.0" stroke="#fff" stroke-width="1.6" stroke-linejoin="round" paint-order="stroke">September 7 - 9, 1973</text>
<text x="120.1" y="10.7" font-size="7.1" >Mahi Basin</text>
<text x="168.3" y="15.0" font-size="9.5" font-weight="bold">f</text>
<text x="4.4" y="58.4" font-size="6">Rainfall (mm)</text>
<rect x="4.4" y="63.1" width="7.6" height="3.7" fill="#a2ecf5"/>
<text x="13.4" y="67.1" font-size="6">1 - 100</text>
<rect x="4.4" y="71.2" width="7.6" height="3.7" fill="#43a6e8"/>
<text x="13.4" y="75.2" font-size="6">101 - 200</text>
<rect x="4.4" y="79.2" width="7.6" height="3.7" fill="#0a78e6"/>
<text x="13.4" y="83.2" font-size="6">201 - 300</text>
<rect x="4.4" y="87.3" width="7.6" height="3.7" fill="#0a3cc8"/>
<text x="13.4" y="91.3" font-size="6">301 - 400</text>
<rect x="4.4" y="95.3" width="7.6" height="3.7" fill="#0a0a96"/>
<text x="13.4" y="99.3" font-size="6">401 - 500</text>
<circle cx="59.9" cy="155.4" r="0.85" fill="#0a0a14"/>
<text x="66.2" y="157.2" font-size="6">Raingauge Stations</text>
<path d="M121.0,156.1V160.1H143.9V156.1" fill="none" stroke="#444" stroke-width="0.6"/>
<text x="121.2" y="154.3" font-size="6" text-anchor="middle">0</text>
<text x="148.4" y="154.3" font-size="6" text-anchor="middle">40 km</text>
<use href="#compass" x="170.1" y="148.3"/>
<text x="28.0" y="169.4" font-size="6" text-anchor="middle">73°E</text>
<text x="89.8" y="169.4" font-size="6" text-anchor="middle">74°E</text>
<text x="151.6" y="169.4" font-size="6" text-anchor="middle">75°E</text>
<text x="-1.6" y="46.7" font-size="6" text-anchor="end">24°N</text>
<text x="-1.6" y="109.5" font-size="6" text-anchor="end">23°N</text>
</g>
</svg></body></html>
